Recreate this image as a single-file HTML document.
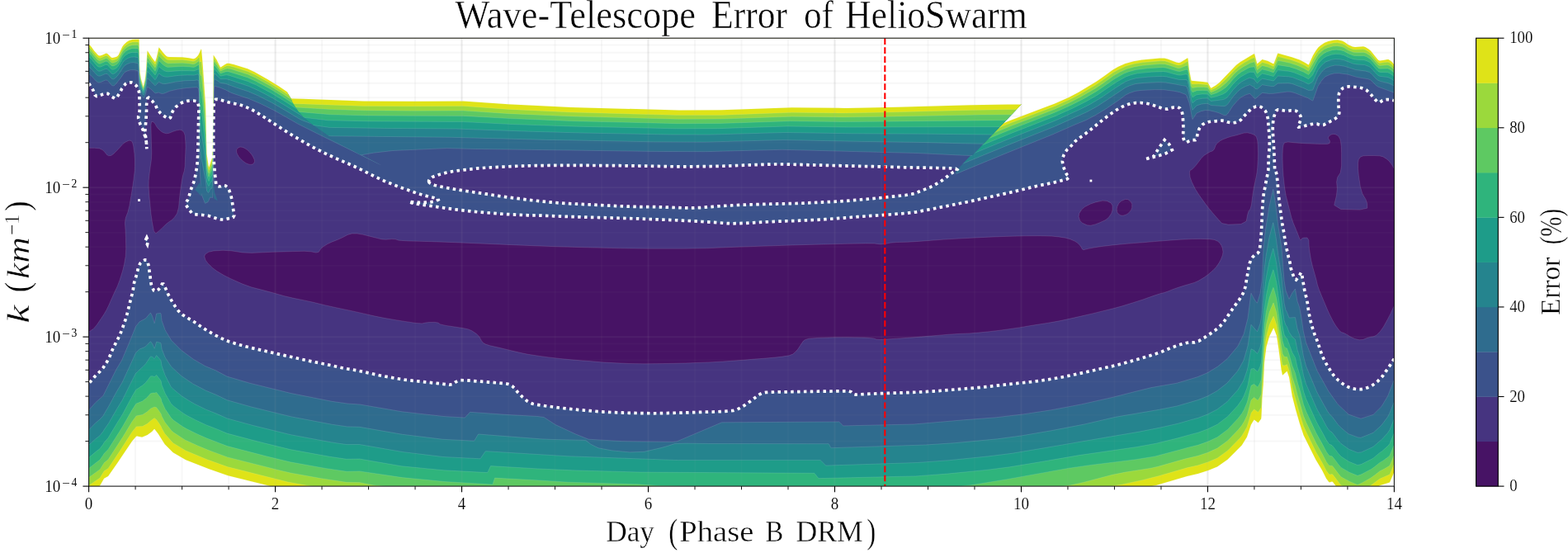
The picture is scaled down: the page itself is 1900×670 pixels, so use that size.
<!DOCTYPE html>
<html lang="en">
<head>
<meta charset="utf-8">
<title>Wave-Telescope Error of HelioSwarm</title>
<style>
html,body{margin:0;padding:0;background:#fff;}
body{width:1900px;height:670px;overflow:hidden;}
svg{display:block;}
svg text{font-family:"Liberation Serif","DejaVu Serif",serif;fill:#000;}
</style>
</head>
<body>
<svg width="1900" height="670" viewBox="0 0 1900 670">
<rect x="0" y="0" width="1900" height="670" fill="#fff"/>
<defs>
<clipPath id="cax"><rect x="107.6" y="46.2" width="1581.8000000000002" height="542.9"/></clipPath>
<clipPath id="cL"><polygon points="106.6,43.2 350.0,43.2 350.0,111.4 354.8,119.2 356.7,124.0 359.6,128.9 363.5,134.7 369.3,141.5 381.0,151.2 400.4,164.8 439.2,188.0 462.0,200.0 462.0,320.0 106.6,320.0"/></clipPath>
<clipPath id="cM"><polygon points="348.0,43.2 348.0,111.4 352.8,119.2 354.7,124.0 357.6,128.9 361.5,134.7 367.3,141.5 379.0,151.2 398.4,164.8 437.2,188.0 460.0,200.0 460.0,320.0 1160.5,320.0 1160.5,207.0 1238.0,126.0 1238.0,43.2"/></clipPath>
<clipPath id="cR"><polygon points="1236.0,43.2 1236.0,126.0 1158.5,207.0 1158.5,320.0 1690.4,320.0 1690.4,43.2"/></clipPath>
<clipPath id="cw"><polygon points="106.6,44.2 106.6,54.0 107.6,54.0 109.1,54.8 111.1,57.2 114.1,61.4 118.6,66.4 119.6,67.2 121.1,67.6 123.6,66.8 127.6,64.9 128.6,64.6 130.1,64.9 132.1,66.8 134.6,69.5 136.1,69.9 139.6,69.2 142.1,68.2 143.6,66.4 145.6,62.2 148.1,56.7 150.1,54.1 153.6,50.8 156.6,49.1 160.6,47.8 168.6,47.5 169.1,78.8 169.6,87.4 170.6,93.6 171.1,96.3 173.6,105.0 175.6,96.8 176.1,93.3 176.6,88.7 177.1,83.3 178.1,66.1 178.6,61.2 184.1,69.8 187.6,74.5 188.1,74.7 189.6,70.0 192.1,59.0 192.6,57.3 198.1,64.3 201.1,67.4 203.1,68.8 205.6,69.1 221.1,69.3 229.1,70.3 234.1,71.3 236.1,70.8 238.1,69.2 240.1,67.1 241.6,64.0 243.6,59.6 244.1,59.8 245.1,70.7 245.6,76.4 249.1,127.1 249.6,145.0 250.1,170.0 250.6,186.4 252.6,200.2 253.1,202.7 257.1,190.9 257.6,176.7 258.1,143.3 258.6,66.4 262.6,72.6 267.1,81.6 268.1,81.1 273.1,77.7 275.1,76.8 277.6,76.7 283.1,78.0 300.1,83.3 308.6,87.2 324.1,95.9 337.6,104.3 365.1,123.0 464.0,123.0 464.0,44.2" clip-path="url(#cL)"/><polygon points="1150.0,44.2 1150.0,176.0 1224.5,145.8 1277.5,125.7 1295.0,118.0 1306.5,112.0 1328.5,98.8 1337.5,92.5 1348.5,84.5 1355.0,80.8 1363.5,77.1 1373.5,74.3 1383.5,72.6 1405.0,70.6 1411.0,70.5 1415.0,71.6 1425.5,75.6 1428.5,76.1 1430.5,75.6 1439.0,70.2 1439.5,70.8 1441.0,84.0 1441.5,87.0 1443.5,97.3 1444.0,97.8 1457.5,99.0 1463.5,99.8 1466.5,105.3 1467.0,106.2 1467.5,106.7 1473.0,103.6 1477.5,100.0 1492.0,84.9 1498.0,78.8 1503.0,75.0 1518.0,66.1 1520.0,65.0 1520.5,66.4 1523.0,75.9 1523.5,77.3 1529.5,72.0 1536.0,73.7 1543.0,77.2 1543.5,76.9 1548.0,65.2 1548.5,64.4 1565.5,69.2 1575.0,72.6 1582.0,76.3 1585.5,78.5 1586.0,77.9 1591.0,66.9 1594.5,61.2 1597.5,57.3 1600.5,54.7 1605.0,51.8 1609.5,50.0 1616.5,48.4 1621.0,48.3 1626.5,49.4 1629.0,50.7 1633.5,54.0 1639.0,56.4 1642.0,56.9 1652.0,56.2 1654.5,56.9 1658.5,59.4 1661.0,61.6 1669.0,71.5 1670.5,73.0 1672.0,73.6 1677.0,72.7 1681.0,71.9 1682.5,72.1 1684.5,73.2 1687.0,75.3 1689.5,78.6 1690.4,78.6 1690.4,44.2" clip-path="url(#cR)"/><polygon points="340.0,44.2 340.0,119.0 367.5,119.8 440.5,122.4 496.0,122.7 561.5,122.4 616.0,126.3 692.0,129.9 823.0,133.5 874.0,133.3 959.5,130.2 1024.5,130.9 1086.5,129.7 1175.5,127.3 1221.0,126.6 1240.0,126.5 1240.0,44.2" clip-path="url(#cM)"/><polygon points="106.6,592.1 106.6,597.0 107.6,597.0 121.1,588.4 126.1,579.8 131.1,577.1 142.1,561.3 160.1,534.4 165.1,528.7 166.1,528.6 172.1,529.7 178.6,527.1 184.1,522.9 187.1,519.8 188.1,520.9 191.6,525.6 199.6,538.2 209.6,548.3 225.1,557.3 252.6,568.1 276.1,576.2 350.6,594.7 385.1,600.8 419.6,605.9 442.1,607.7 596.6,623.0 597.1,622.7 599.6,616.1 600.1,615.0 987.6,631.0 1108.1,629.8 1147.6,627.2 1192.1,622.9 1245.6,616.5 1310.1,607.5 1340.1,602.0 1359.6,597.8 1388.6,590.4 1401.1,588.0 1438.6,576.9 1451.6,574.1 1464.1,570.1 1475.1,565.6 1487.6,556.7 1504.8,539.6 1511.0,529.4 1516.0,514.5 1519.5,508.7 1520.0,508.8 1524.5,512.2 1525.2,511.4 1528.2,507.5 1528.5,505.0 1529.5,482.3 1529.8,478.2 1530.8,466.4 1531.0,462.5 1532.0,441.8 1532.2,438.5 1534.5,420.6 1534.8,419.3 1538.2,407.5 1543.2,397.4 1543.8,398.5 1547.0,407.0 1547.2,408.3 1549.8,425.9 1552.5,447.2 1554.0,454.7 1559.5,449.7 1562.0,457.0 1565.8,480.1 1569.8,495.7 1574.8,513.0 1579.5,527.2 1594.2,556.8 1602.0,569.8 1607.0,579.7 1610.0,583.7 1611.0,584.4 1614.0,583.4 1615.0,584.1 1621.5,592.6 1625.0,597.0 1645.0,606.0 1661.0,596.3 1672.0,588.2 1684.0,584.5 1687.5,576.5 1689.0,572.9 1690.0,572.0 1690.0,592.1"/></clipPath>
</defs>
<g clip-path="url(#cax)">
<rect x="106.6" y="45.2" width="1583.8000000000002" height="544.9" fill="#3b528b"/>
<g clip-path="url(#cL)">
<polygon points="106.6,44.2 106.6,89.5 107.6,89.5 109.6,90.9 112.6,94.0 116.1,97.9 118.1,99.4 119.6,100.0 121.6,99.7 127.6,97.2 129.1,97.1 130.1,97.4 132.1,99.4 134.6,102.5 136.1,103.8 137.6,103.9 139.1,103.1 141.1,101.0 146.6,93.9 149.6,89.4 151.1,87.6 154.6,85.8 158.6,84.6 163.1,84.7 167.1,85.8 167.6,87.7 168.6,105.1 169.1,112.2 171.6,116.1 174.1,118.8 174.6,118.3 176.1,114.9 176.6,113.6 178.1,106.8 178.6,105.1 183.1,108.1 188.1,113.0 192.1,112.0 195.1,113.3 197.6,113.4 200.6,112.5 205.6,110.3 214.1,108.3 226.1,106.5 238.1,105.7 239.1,106.1 240.1,106.8 240.6,107.5 241.1,112.5 241.6,135.0 242.1,202.1 243.6,234.0 248.1,245.5 248.6,246.4 252.1,244.6 252.6,243.8 254.6,239.0 257.6,239.5 258.1,229.0 258.6,188.3 259.1,111.7 259.6,104.1 267.1,106.3 273.6,109.0 280.1,112.4 289.6,115.7 301.1,119.4 316.1,125.8 331.1,133.2 346.6,141.8 360.1,149.6 383.6,161.4 451.6,194.9 460.1,199.0 464.0,199.0 464.0,44.2" fill="#2f6c8e" stroke="#ffffff" stroke-opacity="0.2" stroke-width="0.6" stroke-linejoin="round"/>
<polygon points="106.6,44.2 106.6,81.0 107.6,81.0 109.6,82.4 112.1,85.1 116.1,89.7 118.1,91.4 119.6,92.1 121.6,92.0 127.6,89.5 128.6,89.3 130.1,89.6 132.1,91.6 134.6,94.6 136.1,95.7 137.6,95.8 139.6,94.6 142.1,92.2 145.6,87.3 149.1,81.8 151.1,79.4 154.1,77.5 158.1,76.0 161.6,75.7 166.1,76.4 167.1,76.7 167.6,78.1 168.6,91.3 169.1,104.2 169.6,106.9 171.1,110.8 173.6,115.1 174.1,115.0 174.6,114.2 175.6,111.5 176.1,109.7 176.6,107.6 177.1,104.6 178.1,97.1 178.6,94.6 183.6,99.2 187.6,103.5 188.1,103.8 190.1,101.8 192.1,99.4 192.6,99.2 196.1,101.1 198.6,101.7 202.1,101.3 212.1,99.2 224.1,97.8 236.1,97.4 238.6,96.9 240.6,97.6 241.1,101.2 241.6,118.0 242.1,168.9 243.6,192.3 244.1,193.3 245.6,200.2 248.1,213.7 248.6,216.2 249.1,217.7 249.6,221.8 250.1,227.6 250.6,231.3 252.1,233.2 252.6,233.4 253.1,233.1 254.6,229.3 257.1,227.8 257.6,224.5 258.1,208.5 258.6,159.2 259.1,101.1 259.6,95.5 264.1,98.2 267.1,100.4 273.6,101.4 286.1,106.1 300.6,110.7 313.1,116.1 329.1,124.2 345.1,133.4 361.1,143.1 366.1,145.7 456.6,179.6 460.1,180.8 464.0,180.8 464.0,44.2" fill="#25848e" stroke="#ffffff" stroke-opacity="0.2" stroke-width="0.6" stroke-linejoin="round"/>
<polygon points="106.6,44.2 106.6,74.4 107.6,74.4 109.1,75.3 111.6,78.0 115.6,82.9 118.1,85.2 119.6,86.1 121.6,86.0 125.1,84.6 128.1,83.4 129.1,83.4 130.1,83.6 132.1,85.6 134.6,88.5 136.1,89.4 137.6,89.4 139.6,88.4 142.1,86.4 144.1,83.6 148.6,76.1 150.1,74.1 151.6,72.6 155.1,70.4 158.6,69.2 162.6,68.9 167.1,69.6 167.6,70.7 168.6,80.6 169.1,98.0 169.6,102.1 171.1,107.3 173.6,112.6 174.1,112.1 174.6,110.9 175.6,107.9 176.1,105.7 176.6,103.0 177.1,99.4 178.1,89.5 178.6,86.5 184.6,93.0 187.6,96.4 188.1,96.7 189.6,94.5 192.1,89.5 192.6,89.0 196.6,91.9 199.6,93.0 203.1,93.2 216.1,91.4 227.1,90.9 235.1,91.1 239.1,90.0 240.6,90.0 241.1,92.4 241.6,104.9 242.1,143.1 243.6,160.0 244.1,160.8 245.6,170.1 248.6,192.7 249.1,195.7 249.6,203.1 250.1,213.6 250.6,220.4 252.1,224.3 252.6,225.3 253.1,225.7 254.6,221.7 257.1,218.8 257.6,212.8 258.1,192.7 258.6,136.6 259.1,92.8 259.6,88.8 263.6,92.2 267.1,95.8 274.1,95.6 278.1,96.7 291.1,101.0 301.6,104.5 313.6,109.9 330.6,118.9 346.1,128.2 363.1,138.7 365.6,140.0 459.6,166.6 464.0,166.8 464.0,44.2" fill="#1e9c89" stroke="#ffffff" stroke-opacity="0.2" stroke-width="0.6" stroke-linejoin="round"/>
<polygon points="106.6,44.2 106.6,69.1 107.6,69.1 109.1,69.9 111.1,72.1 115.1,77.1 118.1,80.2 119.6,81.1 121.6,81.2 124.6,80.0 127.6,78.6 128.6,78.4 130.1,78.7 132.1,80.6 134.6,83.5 136.1,84.3 138.1,84.1 140.6,82.8 142.1,81.6 143.6,79.7 146.1,75.2 148.1,71.5 150.1,68.8 152.1,66.9 155.6,64.7 160.1,63.4 165.1,63.5 167.1,63.8 167.6,64.6 168.6,71.9 169.1,92.9 169.6,98.3 171.1,104.4 173.6,110.6 174.1,109.7 175.1,106.6 175.6,105.0 176.1,102.4 176.6,99.2 177.1,95.2 178.1,83.3 178.6,79.8 187.6,90.6 188.1,90.9 189.6,88.1 192.1,81.5 192.6,80.7 197.1,84.5 200.6,86.3 203.6,86.8 219.6,85.4 229.1,85.6 234.6,85.9 237.1,85.2 240.6,83.7 241.1,85.2 241.6,94.1 242.1,122.0 243.6,133.6 244.1,134.2 245.6,145.5 248.6,173.6 249.1,177.6 249.6,187.8 250.1,202.1 250.6,211.4 252.1,217.1 252.6,218.7 253.1,219.6 254.6,215.6 257.1,211.5 257.6,203.3 258.1,179.7 258.6,118.1 259.1,86.1 259.6,83.3 263.1,86.9 267.1,92.1 274.1,90.8 277.1,91.2 300.1,98.5 310.6,103.1 328.1,112.4 343.6,121.8 363.6,134.5 365.6,135.5 460.1,155.2 464.0,155.2 464.0,44.2" fill="#2fb47c" stroke="#ffffff" stroke-opacity="0.2" stroke-width="0.6" stroke-linejoin="round"/>
<polygon points="106.6,44.2 106.6,64.5 107.6,64.5 109.1,65.4 111.1,67.6 114.6,72.2 118.1,75.9 119.6,76.9 121.1,77.2 123.6,76.3 127.6,74.5 128.6,74.2 130.1,74.5 132.1,76.5 134.6,79.2 136.1,79.9 138.1,79.7 140.6,78.6 142.1,77.6 143.6,75.7 146.1,70.9 148.1,67.0 150.1,64.3 152.6,62.0 156.1,59.9 160.1,58.7 165.1,58.7 167.1,58.9 167.6,59.4 168.6,64.6 169.1,88.6 169.6,95.0 171.1,102.0 173.6,108.9 174.6,106.1 175.6,102.5 176.1,99.7 176.6,96.0 177.1,91.6 178.1,78.1 178.6,74.2 186.6,84.5 187.6,85.8 188.1,86.0 189.6,82.6 192.1,74.7 192.6,73.6 197.1,78.1 200.6,80.4 203.1,81.4 221.1,80.5 229.6,81.0 234.6,81.5 236.6,80.9 240.6,78.4 241.1,79.2 241.6,85.0 242.1,104.2 243.6,111.3 244.1,111.8 245.1,120.2 245.6,124.6 248.6,157.4 249.1,162.4 249.6,174.9 250.1,192.4 250.6,203.9 252.6,213.1 253.1,214.5 254.6,210.3 257.1,205.3 257.6,195.3 258.1,168.7 258.6,102.5 259.1,80.4 259.6,78.7 263.1,82.9 267.1,88.9 274.1,86.7 276.6,86.7 285.1,89.2 300.1,93.9 310.1,98.4 327.6,107.8 342.6,117.1 364.6,131.4 366.6,131.9 460.6,145.5 464.0,145.5 464.0,44.2" fill="#5ec962" stroke="#ffffff" stroke-opacity="0.2" stroke-width="0.6" stroke-linejoin="round"/>
<polygon points="106.6,44.2 106.6,60.6 107.6,60.6 109.1,61.4 111.1,63.7 114.1,67.8 118.1,72.2 119.6,73.3 121.1,73.6 123.6,72.8 127.6,70.9 128.6,70.6 130.1,70.9 132.1,72.9 134.6,75.6 136.1,76.2 138.6,75.8 142.1,74.1 143.6,72.2 145.6,68.3 148.1,63.2 150.1,60.5 153.1,57.8 156.1,55.9 160.1,54.7 165.1,54.5 167.1,54.6 167.6,55.0 168.6,58.2 169.1,84.9 169.6,92.2 171.1,99.9 173.6,107.5 174.6,104.1 175.6,100.4 176.1,97.3 176.6,93.3 177.1,88.5 178.1,73.6 178.6,69.3 184.6,77.7 187.6,81.5 188.1,81.8 189.6,77.9 192.1,68.8 192.6,67.5 197.6,73.0 201.1,75.7 203.6,76.7 221.1,76.3 229.1,77.0 234.1,77.7 236.1,77.3 239.6,74.9 240.6,73.9 241.1,73.9 241.6,77.2 242.1,88.7 243.6,91.9 244.1,92.3 245.1,101.6 245.6,106.6 248.6,143.3 249.1,149.2 249.6,163.7 250.1,184.0 250.6,197.3 252.6,208.3 253.1,210.1 254.6,205.8 257.1,199.9 257.6,188.3 258.1,159.2 258.6,89.0 259.1,75.4 259.6,74.7 263.1,79.4 267.1,86.2 268.1,85.8 273.1,83.4 275.6,82.9 279.6,83.5 300.1,90.0 309.6,94.2 327.1,103.8 341.6,112.9 365.1,128.4 461.1,137.1 464.0,137.1 464.0,44.2" fill="#9bd93c" stroke="#ffffff" stroke-opacity="0.2" stroke-width="0.6" stroke-linejoin="round"/>
<polygon points="106.6,44.2 106.6,57.1 107.6,57.1 109.1,57.9 111.1,60.3 114.1,64.4 118.1,68.9 119.6,70.1 121.1,70.4 123.6,69.6 127.6,67.7 128.6,67.5 130.1,67.8 132.1,69.7 134.6,72.3 136.1,72.9 139.1,72.3 142.1,71.0 143.6,69.1 145.6,65.1 148.1,59.7 150.1,57.1 153.6,53.9 156.6,52.2 160.6,51.0 167.1,50.9 167.6,51.0 168.6,52.5 169.1,81.7 169.6,89.7 170.6,95.4 171.1,98.0 173.6,106.2 175.6,98.5 176.1,95.1 176.6,90.8 177.1,85.7 178.1,69.6 178.6,65.1 184.1,73.2 187.6,77.8 188.1,78.0 189.6,73.7 192.1,63.6 192.6,62.1 197.6,68.1 201.1,71.3 203.1,72.5 206.1,72.7 221.1,72.6 229.1,73.5 234.1,74.3 236.1,73.8 238.6,72.0 240.1,70.6 241.1,69.3 241.6,70.2 242.1,75.1 243.6,74.8 244.1,75.1 245.1,85.3 245.6,90.7 249.1,137.5 249.6,153.8 250.1,176.6 250.6,191.5 252.6,204.0 253.1,206.2 255.6,199.2 257.1,195.1 257.6,182.2 258.1,150.8 258.6,77.1 259.1,71.1 259.6,71.1 263.1,76.3 267.1,83.8 268.1,83.3 273.1,80.4 275.1,79.7 277.6,79.7 283.6,81.3 300.1,86.5 309.1,90.5 326.1,100.0 340.1,108.8 365.1,125.6 463.6,129.7 464.0,129.7 464.0,44.2" fill="#dfe318" stroke="#ffffff" stroke-opacity="0.2" stroke-width="0.6" stroke-linejoin="round"/>
<polygon points="106.6,44.2 106.6,54.0 107.6,54.0 109.1,54.8 111.1,57.2 114.1,61.4 118.6,66.4 119.6,67.2 121.1,67.6 123.6,66.8 127.6,64.9 128.6,64.6 130.1,64.9 132.1,66.8 134.6,69.5 136.1,69.9 139.6,69.2 142.1,68.2 143.6,66.4 145.6,62.2 148.1,56.7 150.1,54.1 153.6,50.8 156.6,49.1 160.6,47.8 168.6,47.5 169.1,78.8 169.6,87.4 170.6,93.6 171.1,96.3 173.6,105.0 175.6,96.8 176.1,93.3 176.6,88.7 177.1,83.3 178.1,66.1 178.6,61.2 184.1,69.8 187.6,74.5 188.1,74.7 189.6,70.0 192.1,59.0 192.6,57.3 198.1,64.3 201.1,67.4 203.1,68.8 205.6,69.1 221.1,69.3 229.1,70.3 234.1,71.3 236.1,70.8 238.1,69.2 240.1,67.1 241.6,64.0 243.6,59.6 244.1,59.8 245.1,70.7 245.6,76.4 249.1,127.1 249.6,145.0 250.1,170.0 250.6,186.4 252.6,200.2 253.1,202.7 257.1,190.9 257.6,176.7 258.1,143.3 258.6,66.4 262.6,72.6 267.1,81.6 268.1,81.1 273.1,77.7 275.1,76.8 277.6,76.7 283.1,78.0 300.1,83.3 308.6,87.2 324.1,95.9 337.6,104.3 365.1,123.0 464.0,123.0 464.0,44.2" fill="#ffffff" stroke="#ffffff" stroke-opacity="0.2" stroke-width="0.6" stroke-linejoin="round"/>
</g>
<g clip-path="url(#cR)">
<polygon points="1150.0,44.2 1150.0,214.2 1217.0,186.5 1275.0,163.1 1303.0,150.8 1316.0,145.5 1327.5,139.5 1340.0,131.9 1356.5,120.7 1364.0,115.0 1368.5,112.8 1375.5,110.4 1382.0,109.5 1399.5,108.6 1410.0,108.7 1422.5,110.3 1429.5,111.7 1437.0,114.6 1437.5,115.1 1441.0,124.4 1442.0,129.4 1444.5,142.6 1445.0,144.6 1450.0,137.1 1455.5,134.7 1460.5,133.6 1465.0,133.7 1472.5,135.4 1477.0,136.8 1482.5,139.3 1484.5,139.7 1486.0,139.3 1487.5,137.9 1490.0,134.3 1493.5,128.7 1500.0,121.3 1503.5,118.1 1509.0,115.1 1513.0,113.8 1514.5,113.5 1516.0,114.8 1520.5,119.4 1521.0,119.7 1529.5,112.4 1537.5,113.4 1543.0,113.3 1560.0,111.1 1564.0,111.2 1569.0,112.6 1584.5,118.6 1589.0,121.1 1590.5,122.2 1591.0,121.5 1597.0,104.6 1601.0,98.3 1603.5,95.1 1606.0,92.8 1612.0,90.1 1617.0,88.8 1622.5,88.7 1633.0,90.1 1644.5,93.6 1658.0,95.8 1660.5,96.8 1663.0,98.9 1667.5,103.6 1670.0,105.2 1678.0,108.1 1689.5,112.3 1690.4,112.3 1690.4,44.2" fill="#2f6c8e" stroke="#ffffff" stroke-opacity="0.2" stroke-width="0.6" stroke-linejoin="round"/>
<polygon points="1150.0,44.2 1150.0,205.1 1221.0,175.9 1277.5,153.4 1316.5,135.9 1329.5,128.8 1342.5,120.3 1364.0,105.9 1369.0,103.7 1376.0,101.6 1386.0,100.4 1404.0,99.5 1412.0,99.8 1432.5,103.6 1437.0,104.3 1437.5,104.6 1439.0,107.4 1439.5,108.6 1441.0,114.8 1443.5,127.8 1444.5,131.9 1445.0,133.4 1450.0,127.9 1456.0,126.0 1461.5,125.4 1463.5,125.5 1467.5,127.6 1478.0,128.3 1483.0,128.7 1485.0,128.2 1486.5,127.3 1488.0,125.7 1491.0,121.5 1494.0,117.3 1500.0,110.7 1503.5,107.7 1509.5,104.4 1514.5,102.7 1518.5,105.0 1520.0,106.0 1521.0,107.4 1523.5,107.9 1529.5,102.7 1541.0,104.6 1543.5,104.5 1548.5,101.0 1561.0,100.7 1565.5,101.4 1579.0,106.4 1585.5,109.4 1590.5,109.2 1591.0,108.4 1596.5,94.6 1597.0,93.5 1601.0,87.8 1604.0,84.5 1606.5,82.6 1612.5,80.2 1617.5,79.1 1623.0,79.2 1629.0,80.2 1642.5,84.5 1654.5,86.0 1659.5,87.6 1662.0,89.5 1667.5,95.5 1670.0,97.4 1673.0,98.6 1682.0,100.6 1687.5,103.1 1689.5,104.2 1690.4,104.2 1690.4,44.2" fill="#25848e" stroke="#ffffff" stroke-opacity="0.2" stroke-width="0.6" stroke-linejoin="round"/>
<polygon points="1150.0,44.2 1150.0,198.0 1223.0,168.1 1278.0,146.4 1309.5,132.1 1322.0,125.7 1334.0,118.5 1353.0,105.6 1364.0,98.8 1370.0,96.5 1377.0,94.6 1392.0,93.1 1408.5,92.4 1413.5,92.9 1428.5,96.4 1433.5,96.5 1437.5,96.5 1439.0,98.3 1439.5,99.4 1443.5,120.3 1444.5,123.6 1445.0,124.8 1450.0,120.6 1456.5,119.3 1462.5,119.1 1463.5,119.2 1467.0,122.2 1467.5,122.5 1481.0,120.8 1484.5,119.8 1486.5,118.4 1489.0,115.6 1494.0,108.9 1500.0,102.6 1504.0,99.3 1511.0,95.6 1514.5,94.2 1520.0,96.0 1521.0,97.9 1523.0,100.1 1523.5,100.5 1529.5,95.2 1543.0,98.0 1543.5,97.8 1548.0,92.4 1548.5,92.1 1561.5,92.8 1566.5,93.8 1580.0,99.1 1585.5,101.9 1586.5,101.4 1590.5,99.1 1591.0,98.3 1596.5,85.8 1597.5,84.1 1601.0,79.7 1604.0,76.7 1607.0,74.7 1613.5,72.3 1618.5,71.5 1624.0,71.9 1628.5,72.8 1639.5,77.1 1644.0,77.9 1653.5,78.6 1658.5,80.4 1660.5,81.6 1663.0,84.1 1667.5,89.2 1670.0,91.4 1672.0,92.3 1682.0,93.6 1686.0,95.5 1689.5,98.0 1690.4,98.0 1690.4,44.2" fill="#1e9c89" stroke="#ffffff" stroke-opacity="0.2" stroke-width="0.6" stroke-linejoin="round"/>
<polygon points="1150.0,44.2 1150.0,192.2 1224.0,162.0 1278.0,140.9 1299.0,131.5 1316.0,123.0 1330.0,114.9 1344.0,105.3 1353.5,99.0 1364.0,93.1 1371.0,90.6 1378.5,88.8 1395.5,87.2 1409.5,86.7 1414.0,87.3 1427.5,90.9 1430.5,91.1 1437.5,89.8 1439.0,90.9 1439.5,91.8 1441.0,101.2 1443.5,114.3 1444.5,116.8 1445.0,117.7 1450.0,114.8 1457.0,113.9 1463.5,114.1 1467.0,118.0 1467.5,118.3 1475.0,116.5 1482.0,114.0 1485.5,111.9 1488.0,109.5 1494.5,101.4 1500.0,95.9 1504.0,92.8 1511.5,88.6 1515.0,87.3 1520.0,87.8 1521.0,90.1 1523.0,93.7 1523.5,94.4 1529.5,89.1 1537.5,91.0 1543.0,92.5 1543.5,92.3 1548.0,85.3 1548.5,84.8 1562.0,86.3 1568.5,88.1 1579.5,92.6 1585.5,95.7 1586.0,95.5 1590.5,90.9 1591.5,88.9 1596.0,79.6 1597.0,77.7 1600.0,74.0 1604.0,70.3 1607.0,68.4 1613.5,66.2 1618.5,65.4 1624.0,65.8 1628.5,66.9 1635.0,70.0 1640.5,71.9 1646.0,72.5 1653.0,72.7 1657.0,74.1 1660.0,75.8 1662.5,78.2 1667.5,84.0 1670.0,86.5 1672.0,87.4 1681.5,87.8 1684.0,88.7 1687.5,91.1 1689.5,92.9 1690.4,92.9 1690.4,44.2" fill="#2fb47c" stroke="#ffffff" stroke-opacity="0.2" stroke-width="0.6" stroke-linejoin="round"/>
<polygon points="1150.0,44.2 1150.0,187.3 1225.0,156.8 1278.0,136.3 1297.0,127.8 1313.5,119.4 1328.5,110.7 1338.5,103.9 1350.5,95.6 1362.0,89.1 1368.0,86.8 1376.5,84.5 1390.5,82.8 1409.0,81.7 1413.0,82.2 1427.0,86.3 1430.0,86.5 1437.5,84.2 1439.0,84.7 1439.5,85.5 1441.0,96.0 1443.5,109.1 1444.0,110.3 1445.0,111.7 1450.5,109.7 1457.5,109.4 1463.5,109.8 1467.0,114.5 1467.5,114.8 1474.5,112.4 1480.5,109.3 1485.5,105.8 1489.0,102.2 1495.0,95.1 1500.0,90.2 1504.5,86.9 1513.0,82.2 1515.0,81.4 1520.0,80.9 1523.0,88.4 1523.5,89.2 1529.5,84.0 1537.0,85.8 1543.0,87.9 1543.5,87.6 1548.0,79.2 1548.5,78.7 1562.5,80.9 1570.5,83.4 1579.5,87.2 1585.5,90.5 1586.0,90.2 1590.5,83.9 1595.5,74.3 1597.0,71.7 1600.0,68.3 1604.0,64.9 1607.5,62.9 1614.5,60.7 1619.5,60.2 1625.0,60.9 1628.5,61.9 1634.5,65.2 1640.5,67.4 1645.5,67.7 1652.5,67.7 1655.5,68.6 1660.0,71.2 1662.5,73.8 1667.5,79.7 1670.0,82.3 1672.0,83.2 1681.5,83.0 1684.0,83.9 1687.0,86.0 1689.5,88.6 1690.4,88.6 1690.4,44.2" fill="#5ec962" stroke="#ffffff" stroke-opacity="0.2" stroke-width="0.6" stroke-linejoin="round"/>
<polygon points="1150.0,44.2 1150.0,183.1 1225.0,152.6 1277.5,132.5 1295.5,124.5 1310.0,117.0 1327.0,107.2 1336.0,101.2 1349.5,91.6 1357.5,87.1 1365.0,83.6 1374.5,80.9 1384.5,79.3 1405.0,77.6 1411.5,77.7 1416.5,79.1 1427.0,82.4 1429.5,82.6 1432.5,81.6 1437.5,79.4 1439.0,79.2 1439.5,80.0 1441.0,91.5 1442.0,96.9 1443.5,104.7 1444.0,105.6 1445.0,106.5 1451.0,105.4 1458.5,105.6 1463.5,106.0 1467.0,111.4 1467.5,111.8 1473.5,109.2 1478.5,106.2 1484.5,101.4 1489.0,96.9 1495.5,89.6 1500.5,84.9 1506.0,81.2 1515.0,76.3 1520.0,74.9 1520.5,76.2 1523.0,83.7 1523.5,84.8 1529.5,79.5 1536.5,81.3 1543.0,83.9 1543.5,83.6 1548.0,74.0 1548.5,73.3 1563.0,76.3 1572.0,79.3 1579.5,82.6 1585.5,86.0 1586.0,85.6 1591.5,76.0 1595.5,68.9 1597.5,66.0 1600.5,62.9 1604.5,59.8 1608.5,57.9 1615.5,56.1 1620.0,55.7 1625.5,56.5 1628.5,57.6 1634.0,61.0 1640.0,63.3 1644.0,63.6 1652.5,63.4 1655.5,64.4 1660.0,67.2 1662.5,69.9 1668.0,76.5 1670.0,78.7 1672.0,79.6 1681.0,78.8 1683.0,79.3 1686.0,81.2 1688.5,83.7 1689.5,84.8 1690.4,84.8 1690.4,44.2" fill="#9bd93c" stroke="#ffffff" stroke-opacity="0.2" stroke-width="0.6" stroke-linejoin="round"/>
<polygon points="1150.0,44.2 1150.0,179.3 1224.5,149.1 1277.5,128.9 1295.0,121.1 1307.5,114.7 1327.5,103.0 1336.5,96.8 1349.0,87.8 1356.0,83.9 1364.5,80.1 1374.5,77.3 1385.0,75.6 1406.5,73.8 1411.5,73.9 1416.0,75.3 1426.5,78.9 1429.0,79.1 1431.5,78.4 1438.5,74.7 1439.0,74.5 1439.5,75.1 1441.0,87.6 1441.5,90.5 1443.5,100.8 1444.0,101.5 1445.0,102.0 1452.5,101.7 1463.5,102.7 1467.0,108.7 1467.5,109.1 1473.0,106.4 1477.5,103.3 1484.0,97.3 1490.5,90.6 1496.5,84.2 1501.0,80.3 1507.5,76.0 1516.0,71.3 1520.0,69.7 1520.5,71.1 1523.0,79.6 1523.5,80.8 1529.5,75.5 1536.5,77.4 1543.0,80.4 1543.5,80.1 1548.0,69.3 1548.5,68.6 1564.0,72.4 1574.0,75.9 1581.0,79.3 1585.5,82.0 1586.0,81.6 1591.5,70.8 1595.0,64.8 1597.5,61.4 1600.5,58.6 1605.0,55.5 1609.0,53.7 1616.0,52.0 1620.5,51.8 1626.5,52.9 1629.0,54.1 1634.0,57.5 1639.5,59.7 1643.0,60.1 1652.0,59.6 1654.5,60.3 1659.0,63.0 1661.5,65.2 1668.5,73.9 1670.5,75.9 1672.0,76.4 1677.5,75.6 1681.5,75.2 1683.5,75.8 1686.5,78.0 1688.5,80.3 1689.5,81.5 1690.4,81.5 1690.4,44.2" fill="#dfe318" stroke="#ffffff" stroke-opacity="0.2" stroke-width="0.6" stroke-linejoin="round"/>
<polygon points="1150.0,44.2 1150.0,176.0 1224.5,145.8 1277.5,125.7 1295.0,118.0 1306.5,112.0 1328.5,98.8 1337.5,92.5 1348.5,84.5 1355.0,80.8 1363.5,77.1 1373.5,74.3 1383.5,72.6 1405.0,70.6 1411.0,70.5 1415.0,71.6 1425.5,75.6 1428.5,76.1 1430.5,75.6 1439.0,70.2 1439.5,70.8 1441.0,84.0 1441.5,87.0 1443.5,97.3 1444.0,97.8 1457.5,99.0 1463.5,99.8 1466.5,105.3 1467.0,106.2 1467.5,106.7 1473.0,103.6 1477.5,100.0 1492.0,84.9 1498.0,78.8 1503.0,75.0 1518.0,66.1 1520.0,65.0 1520.5,66.4 1523.0,75.9 1523.5,77.3 1529.5,72.0 1536.0,73.7 1543.0,77.2 1543.5,76.9 1548.0,65.2 1548.5,64.4 1565.5,69.2 1575.0,72.6 1582.0,76.3 1585.5,78.5 1586.0,77.9 1591.0,66.9 1594.5,61.2 1597.5,57.3 1600.5,54.7 1605.0,51.8 1609.5,50.0 1616.5,48.4 1621.0,48.3 1626.5,49.4 1629.0,50.7 1633.5,54.0 1639.0,56.4 1642.0,56.9 1652.0,56.2 1654.5,56.9 1658.5,59.4 1661.0,61.6 1669.0,71.5 1670.5,73.0 1672.0,73.6 1677.0,72.7 1681.0,71.9 1682.5,72.1 1684.5,73.2 1687.0,75.3 1689.5,78.6 1690.4,78.6 1690.4,44.2" fill="#ffffff" stroke="#ffffff" stroke-opacity="0.2" stroke-width="0.6" stroke-linejoin="round"/>
</g>
<g clip-path="url(#cM)">
<polygon points="340.0,44.2 340.0,192.0 428.0,188.8 438.5,187.7 452.5,185.2 476.0,182.5 541.5,179.6 572.0,180.4 789.0,183.4 854.5,183.7 947.5,181.3 1111.0,185.5 1166.5,188.2 1240.0,190.0 1240.0,44.2" fill="#2f6c8e" stroke="#ffffff" stroke-opacity="0.2" stroke-width="0.6" stroke-linejoin="round"/>
<polygon points="340.0,44.2 340.0,154.0 357.5,155.4 362.0,157.5 371.5,159.4 383.0,161.9 399.0,164.8 546.5,166.3 661.5,169.4 792.0,171.8 854.0,172.1 949.0,169.6 1043.5,171.4 1114.0,172.4 1171.0,173.9 1240.0,175.0 1240.0,44.2" fill="#25848e" stroke="#ffffff" stroke-opacity="0.2" stroke-width="0.6" stroke-linejoin="round"/>
<polygon points="340.0,44.2 340.0,146.0 358.0,147.3 362.0,148.7 375.0,150.9 399.0,154.4 465.5,155.4 552.5,156.0 587.0,157.3 640.5,159.2 709.0,161.1 812.5,163.0 859.0,163.1 922.5,161.3 951.5,160.5 1033.0,161.8 1122.0,162.2 1185.0,162.9 1240.0,163.3 1240.0,44.2" fill="#1e9c89" stroke="#ffffff" stroke-opacity="0.2" stroke-width="0.6" stroke-linejoin="round"/>
<polygon points="340.0,44.2 340.0,139.6 358.0,140.6 362.5,141.6 397.5,145.8 447.5,146.9 518.5,147.3 561.5,147.6 621.5,150.6 698.5,153.2 819.5,155.8 869.5,155.7 954.0,153.0 1028.5,154.1 1156.0,153.7 1233.5,153.7 1240.0,153.8 1240.0,44.2" fill="#2fb47c" stroke="#ffffff" stroke-opacity="0.2" stroke-width="0.6" stroke-linejoin="round"/>
<polygon points="340.0,44.2 340.0,134.1 358.5,134.9 364.0,135.7 400.0,138.8 445.0,139.9 503.5,140.3 561.5,140.4 618.5,143.6 695.0,146.7 821.0,149.7 873.0,149.5 957.5,146.7 1026.5,147.6 1096.0,146.9 1216.0,145.7 1240.0,145.7 1240.0,44.2" fill="#5ec962" stroke="#ffffff" stroke-opacity="0.2" stroke-width="0.6" stroke-linejoin="round"/>
<polygon points="340.0,44.2 340.0,129.3 359.0,130.0 402.0,132.6 442.5,133.8 498.5,134.2 561.5,134.1 617.0,137.7 693.5,141.0 822.0,144.3 874.5,144.1 959.5,141.2 1025.5,142.0 1090.0,141.0 1188.5,139.1 1240.0,138.8 1240.0,44.2" fill="#9bd93c" stroke="#ffffff" stroke-opacity="0.2" stroke-width="0.6" stroke-linejoin="round"/>
<polygon points="340.0,44.2 340.0,125.1 367.5,125.9 440.5,128.5 496.0,128.8 561.5,128.5 616.0,132.4 692.0,136.0 823.0,139.6 874.0,139.4 959.5,136.3 1024.5,137.0 1086.5,135.8 1175.5,133.4 1221.0,132.7 1240.0,132.6 1240.0,44.2" fill="#dfe318" stroke="#ffffff" stroke-opacity="0.2" stroke-width="0.6" stroke-linejoin="round"/>
<polygon points="340.0,44.2 340.0,119.0 367.5,119.8 440.5,122.4 496.0,122.7 561.5,122.4 616.0,126.3 692.0,129.9 823.0,133.5 874.0,133.3 959.5,130.2 1024.5,130.9 1086.5,129.7 1175.5,127.3 1221.0,126.6 1240.0,126.5 1240.0,44.2" fill="#ffffff" stroke="#ffffff" stroke-opacity="0.2" stroke-width="0.6" stroke-linejoin="round"/>
</g>
<polygon points="106.6,592.1 106.6,497.0 107.6,497.0 115.6,487.8 124.6,479.9 125.1,479.2 140.6,448.1 147.6,436.4 156.1,416.4 164.6,395.4 169.1,389.8 176.6,385.8 182.1,379.2 182.6,379.2 184.6,383.2 185.6,386.4 187.1,391.7 187.6,390.0 189.6,380.0 194.6,379.4 195.1,380.2 195.6,384.8 196.1,388.7 200.1,399.7 201.6,402.4 207.6,412.3 219.6,424.3 234.6,435.4 248.6,443.5 261.1,448.7 275.1,456.1 302.6,464.2 352.6,476.5 402.1,486.3 421.1,489.0 436.1,490.0 487.1,498.8 537.6,504.5 563.1,506.0 563.6,505.8 569.6,499.3 616.6,502.6 651.6,504.5 659.1,505.5 673.1,514.6 697.6,526.0 713.1,532.2 753.6,534.6 815.1,535.4 820.1,534.9 874.6,511.8 1016.6,511.0 1018.1,512.3 1021.6,515.9 1107.1,514.0 1167.6,508.8 1207.6,505.7 1239.6,501.9 1273.1,496.9 1310.1,489.9 1348.1,481.4 1375.1,474.5 1395.1,469.6 1411.6,466.7 1426.1,464.2 1451.1,456.7 1463.1,451.7 1475.6,444.1 1487.1,434.7 1499.6,419.8 1500.8,417.7 1507.2,404.6 1512.0,385.7 1512.2,384.5 1515.5,358.3 1515.8,356.2 1516.0,355.2 1519.8,362.6 1523.2,367.2 1523.5,367.1 1527.0,355.3 1527.2,354.0 1529.2,340.3 1529.5,335.3 1531.0,300.0 1534.0,275.0 1538.0,250.0 1542.5,229.9 1542.8,229.3 1546.0,250.0 1549.0,275.0 1553.0,300.0 1556.0,340.0 1558.0,352.0 1562.0,362.4 1565.8,354.9 1569.5,350.0 1572.0,364.9 1574.5,372.0 1577.0,384.9 1579.2,400.6 1579.5,402.0 1582.5,415.0 1596.0,449.1 1609.5,473.5 1621.0,489.7 1634.0,502.0 1639.5,504.0 1649.0,507.2 1664.0,502.4 1674.0,492.5 1681.0,480.9 1682.0,478.9 1689.0,461.0 1690.0,460.0 1690.0,592.1" fill="#2f6c8e" stroke="#ffffff" stroke-opacity="0.2" stroke-width="0.6" stroke-linejoin="round"/>
<polygon points="106.6,592.1 106.6,520.9 107.6,520.9 115.6,512.6 121.6,507.6 125.1,503.6 127.1,500.0 131.6,492.5 141.1,474.9 148.1,463.3 156.6,444.9 164.1,428.4 164.6,427.4 167.6,424.5 169.6,422.8 174.1,421.1 176.6,419.7 182.1,413.9 182.6,413.8 184.6,416.5 185.6,418.6 187.1,422.3 187.6,421.1 189.6,414.1 194.6,415.4 195.1,416.3 195.6,419.9 196.1,423.1 200.1,433.0 204.1,439.1 207.6,444.3 216.1,452.2 220.1,455.7 233.6,464.9 249.1,473.1 261.6,478.2 275.1,484.7 304.1,492.9 352.1,504.7 402.6,514.3 420.6,516.9 435.6,517.3 487.6,526.3 536.6,532.3 574.6,534.2 579.6,526.0 654.6,531.8 667.6,532.4 709.6,533.4 716.1,538.4 725.1,542.8 741.1,545.8 763.1,547.9 780.6,547.3 801.1,542.6 808.6,540.5 817.6,537.5 831.6,537.1 860.6,537.5 1004.1,537.7 1004.6,538.3 1006.6,542.3 1007.1,542.7 1121.1,539.0 1158.1,536.6 1208.6,531.8 1237.1,528.0 1273.6,521.8 1314.1,514.0 1351.6,505.3 1378.1,500.8 1404.6,496.3 1426.1,492.0 1451.6,484.6 1463.1,480.1 1475.1,473.4 1487.1,464.0 1499.6,449.6 1502.5,444.7 1506.5,437.4 1507.2,435.9 1511.2,422.1 1512.2,418.2 1515.8,394.2 1516.0,393.3 1523.2,401.6 1523.5,401.6 1525.0,397.8 1527.0,392.1 1527.5,389.6 1528.2,385.5 1528.5,383.6 1529.2,375.6 1530.2,354.6 1531.0,338.8 1532.0,327.5 1532.2,325.2 1534.0,310.7 1534.8,305.9 1538.0,287.8 1542.5,270.3 1542.8,269.7 1543.5,273.2 1546.0,286.9 1547.2,295.8 1549.0,309.8 1552.8,334.3 1553.0,335.8 1554.0,347.1 1556.0,367.0 1558.0,375.7 1559.5,378.3 1562.0,385.0 1569.5,384.6 1572.0,398.0 1574.5,405.5 1577.0,417.1 1579.2,430.6 1579.5,431.9 1582.5,443.3 1595.5,474.4 1596.8,477.0 1605.0,491.9 1608.5,498.1 1610.5,501.0 1614.5,505.2 1621.5,514.7 1625.5,518.7 1634.0,525.7 1645.5,529.9 1649.0,530.3 1664.0,524.3 1674.0,515.2 1681.5,505.1 1683.5,501.2 1685.0,497.8 1689.0,487.8 1690.0,486.8 1690.0,592.1" fill="#25848e" stroke="#ffffff" stroke-opacity="0.2" stroke-width="0.6" stroke-linejoin="round"/>
<polygon points="106.6,592.1 106.6,539.4 107.6,539.4 115.6,531.9 121.1,527.7 125.1,522.6 126.6,520.0 131.6,512.9 141.6,495.5 148.1,485.0 157.6,465.9 161.6,457.9 164.6,452.2 166.1,450.9 167.1,450.2 169.6,447.4 173.1,444.4 176.6,440.7 180.6,434.7 182.1,432.3 182.6,431.9 184.6,432.3 187.1,434.7 188.1,433.2 189.6,430.6 194.6,436.2 195.1,437.4 195.6,440.6 196.1,443.5 200.1,454.7 207.1,468.4 208.6,470.2 215.1,475.7 220.6,480.1 228.1,484.9 235.6,489.3 249.6,496.2 262.1,501.1 275.1,506.9 306.6,515.5 352.1,526.7 401.6,535.9 420.1,538.6 435.6,538.5 487.6,547.5 536.6,553.5 582.1,555.8 588.1,546.9 589.1,546.7 687.1,552.7 822.1,557.6 994.1,557.6 995.6,558.9 1000.6,564.1 1111.6,560.5 1150.1,557.7 1198.1,552.8 1226.1,549.3 1265.1,542.8 1322.1,533.0 1380.6,523.1 1406.1,518.0 1427.1,513.3 1443.1,508.7 1451.6,506.4 1463.1,502.1 1475.1,495.9 1487.1,486.7 1500.0,472.3 1505.2,463.9 1507.2,460.2 1511.0,449.0 1512.2,444.4 1515.8,423.7 1516.0,422.8 1519.8,424.5 1523.2,428.3 1523.5,428.3 1524.8,426.2 1527.0,420.6 1528.0,416.3 1528.2,415.2 1528.5,413.2 1529.2,403.0 1529.8,392.5 1530.8,374.0 1531.0,369.0 1532.0,355.4 1532.2,352.8 1534.0,338.5 1534.5,335.0 1535.5,329.7 1538.0,317.2 1541.2,305.9 1542.5,301.6 1542.8,301.1 1543.2,302.5 1546.0,315.5 1547.0,321.4 1548.2,330.9 1549.0,336.7 1551.8,355.5 1552.5,360.7 1553.0,363.5 1554.0,373.3 1556.0,387.9 1558.0,394.0 1559.5,395.7 1562.0,402.5 1566.0,408.3 1569.5,411.4 1572.0,423.7 1574.5,431.5 1577.0,442.1 1579.5,455.1 1582.5,465.2 1595.0,493.9 1596.5,497.0 1603.0,508.5 1607.5,516.9 1610.0,520.7 1611.5,522.1 1614.0,523.8 1616.0,526.3 1621.5,533.7 1625.0,537.5 1634.5,544.3 1645.0,548.4 1649.5,547.9 1662.5,542.0 1664.5,540.8 1672.5,533.9 1674.5,532.3 1681.5,524.6 1684.0,520.8 1689.0,508.5 1690.0,507.5 1690.0,592.1" fill="#1e9c89" stroke="#ffffff" stroke-opacity="0.2" stroke-width="0.6" stroke-linejoin="round"/>
<polygon points="106.6,592.1 106.6,554.6 107.6,554.6 116.1,547.3 121.1,543.6 125.1,538.1 126.1,536.2 131.1,530.5 142.1,512.2 148.1,502.7 160.6,479.3 164.6,472.5 165.6,471.5 167.6,470.5 170.1,468.6 172.6,467.1 176.6,463.4 179.6,459.7 182.1,456.2 182.6,455.8 185.1,455.7 187.1,456.6 189.6,454.4 194.6,460.7 195.1,461.7 196.1,466.7 200.1,476.6 207.1,488.8 210.1,491.9 220.6,499.7 226.6,503.5 236.6,508.7 250.1,515.0 263.6,520.2 275.1,525.1 312.6,535.0 351.6,544.6 399.6,553.3 420.1,556.3 435.6,556.0 486.6,564.8 538.1,569.8 590.6,572.6 591.1,571.9 594.6,564.6 651.6,567.9 693.1,569.8 776.6,572.1 986.6,573.3 987.1,573.6 991.6,579.3 992.6,579.6 1109.6,576.9 1147.6,574.1 1195.1,569.4 1223.6,565.8 1261.6,559.5 1307.6,551.6 1377.6,541.5 1401.1,537.2 1428.1,530.6 1441.1,526.9 1451.6,524.2 1463.6,519.8 1475.1,514.2 1487.6,504.7 1500.0,491.2 1505.0,484.1 1507.2,480.0 1511.0,470.1 1512.2,465.8 1515.8,447.7 1516.0,446.9 1519.5,446.5 1523.2,450.1 1523.8,450.0 1524.8,448.8 1527.0,443.9 1528.2,439.5 1528.5,437.3 1529.2,425.3 1529.5,419.9 1529.8,415.1 1530.8,398.3 1531.0,393.6 1532.0,378.1 1532.2,375.3 1534.0,361.1 1534.5,357.5 1535.0,354.9 1538.0,341.1 1539.0,337.9 1542.5,327.2 1542.8,326.7 1543.2,327.4 1546.0,338.9 1547.0,343.9 1547.5,347.5 1549.0,358.8 1550.5,369.2 1552.5,383.4 1553.0,386.2 1554.0,394.7 1556.0,405.0 1558.0,409.0 1559.5,409.9 1565.8,427.0 1569.5,433.4 1572.0,444.7 1574.5,452.8 1577.0,462.5 1579.5,474.1 1582.5,483.1 1594.8,510.3 1597.0,514.6 1602.5,524.2 1607.0,532.8 1610.0,537.3 1611.0,538.3 1614.0,539.5 1615.5,541.2 1621.5,549.2 1625.0,553.1 1634.5,559.3 1645.0,563.5 1649.5,562.5 1662.0,556.3 1664.5,554.7 1672.0,548.4 1674.5,546.8 1682.0,540.1 1684.0,537.5 1689.0,525.5 1690.0,524.5 1690.0,592.1" fill="#2fb47c" stroke="#ffffff" stroke-opacity="0.2" stroke-width="0.6" stroke-linejoin="round"/>
<polygon points="106.6,592.1 106.6,567.4 107.6,567.4 117.1,560.0 121.1,557.1 125.1,551.2 126.1,549.4 131.1,544.5 144.6,523.2 148.6,516.8 160.1,496.5 164.6,489.6 165.6,488.7 167.6,488.1 170.6,486.8 172.6,486.0 177.1,482.6 179.6,480.1 182.1,477.1 183.1,476.6 185.1,476.0 187.6,476.0 189.6,475.4 193.1,479.9 194.6,482.0 195.1,482.9 196.1,486.8 200.1,495.5 207.6,506.6 210.1,509.0 221.6,517.0 226.1,519.6 238.6,525.7 250.6,531.0 266.1,536.9 275.6,540.6 323.6,553.0 351.6,559.8 394.1,567.4 420.1,571.3 435.6,570.9 487.6,578.6 538.6,583.5 596.6,587.0 597.1,586.8 599.1,580.4 599.6,579.1 648.6,581.7 688.6,584.2 773.6,586.8 798.1,588.4 911.1,590.6 980.1,591.1 985.1,596.0 1110.6,593.8 1138.6,591.8 1177.1,587.7 1219.1,580.9 1294.1,567.4 1322.1,563.4 1376.6,556.7 1399.6,552.9 1429.6,545.0 1440.6,541.9 1451.6,539.3 1463.6,535.1 1475.1,529.7 1487.6,520.4 1500.2,506.9 1505.0,500.7 1507.5,496.2 1511.0,488.0 1512.2,483.8 1515.8,468.1 1516.0,467.3 1519.5,465.3 1523.5,468.7 1524.5,468.2 1527.0,463.6 1528.2,460.0 1528.5,457.8 1529.2,444.2 1529.5,438.7 1529.8,434.1 1530.8,418.8 1532.0,397.3 1532.2,394.4 1534.2,378.4 1534.5,376.5 1534.8,375.2 1538.2,360.5 1542.5,348.8 1542.8,348.3 1543.2,348.5 1546.0,358.7 1547.0,363.0 1547.2,364.5 1549.2,379.1 1551.2,393.5 1552.5,402.7 1553.0,405.4 1554.0,412.8 1556.0,419.4 1558.0,421.7 1559.5,421.9 1562.0,429.0 1565.8,443.0 1569.5,451.9 1572.0,462.5 1575.0,472.5 1577.2,480.8 1579.5,490.1 1582.8,498.8 1594.8,524.6 1597.8,530.0 1602.5,538.3 1607.0,547.0 1610.0,551.3 1611.0,552.2 1614.0,552.8 1615.0,553.7 1621.5,562.3 1625.0,566.4 1635.0,572.2 1645.0,576.3 1650.0,574.6 1661.5,568.4 1665.0,566.1 1672.0,560.4 1675.5,558.4 1682.0,553.7 1684.0,551.7 1689.0,539.8 1690.0,538.8 1690.0,592.1" fill="#5ec962" stroke="#ffffff" stroke-opacity="0.2" stroke-width="0.6" stroke-linejoin="round"/>
<polygon points="106.6,592.1 106.6,578.5 107.6,578.5 119.1,570.2 121.1,568.8 125.6,561.7 126.1,560.8 131.1,556.8 149.1,529.0 160.1,510.7 165.1,503.9 166.6,503.6 172.6,502.5 178.1,499.1 182.6,495.0 186.1,493.4 187.1,493.1 189.6,493.7 192.6,497.7 195.1,501.4 196.1,504.4 199.6,511.2 204.1,517.1 207.6,521.5 210.1,523.8 224.1,532.9 240.1,540.2 251.6,545.0 275.6,553.9 338.1,569.7 352.1,573.0 389.6,579.7 419.6,584.3 435.6,584.6 451.6,587.7 504.1,593.3 596.6,600.0 597.1,599.7 599.6,593.1 600.1,592.0 779.1,599.2 980.1,604.1 985.1,609.0 1130.6,606.5 1161.6,604.8 1196.6,601.6 1239.1,596.3 1297.6,587.8 1312.6,584.5 1347.6,575.3 1363.6,572.1 1394.6,567.2 1403.1,565.3 1435.6,556.1 1451.6,552.3 1463.6,548.3 1475.1,543.1 1487.6,534.0 1500.8,520.3 1505.0,515.1 1507.8,510.3 1511.0,503.5 1512.5,498.5 1515.8,485.7 1516.0,485.0 1519.5,481.5 1520.8,482.4 1523.5,484.7 1524.5,484.7 1526.5,481.5 1527.5,479.5 1528.2,477.8 1528.5,475.5 1529.2,460.6 1529.5,455.0 1529.8,450.6 1530.8,436.6 1531.0,432.4 1532.0,414.0 1532.2,410.9 1534.2,394.9 1534.5,393.0 1534.8,391.7 1538.2,378.1 1542.8,367.1 1543.2,366.8 1544.2,370.0 1546.5,377.6 1547.0,379.5 1547.2,380.9 1549.2,395.3 1550.5,404.4 1552.5,419.3 1553.0,422.0 1554.0,428.5 1556.0,432.0 1558.2,432.6 1559.5,432.3 1562.0,439.5 1565.8,456.9 1569.5,468.0 1572.2,478.7 1577.2,495.7 1579.5,504.0 1583.0,512.4 1594.8,537.0 1602.5,550.4 1607.0,559.2 1610.0,563.4 1611.0,564.2 1614.0,564.2 1615.0,565.1 1621.5,573.6 1625.0,577.8 1635.5,583.4 1645.0,587.4 1651.0,584.7 1661.0,579.0 1666.0,575.5 1672.0,570.8 1677.0,568.3 1682.5,565.1 1684.0,564.0 1689.0,552.2 1690.0,551.2 1690.0,592.1" fill="#9bd93c" stroke="#ffffff" stroke-opacity="0.2" stroke-width="0.6" stroke-linejoin="round"/>
<polygon points="106.6,592.1 106.6,588.2 107.6,588.2 121.1,579.1 126.1,570.8 131.1,567.5 146.1,545.1 160.1,523.2 165.1,517.0 166.1,516.8 172.6,516.6 178.6,513.3 182.6,509.8 187.1,506.4 189.6,508.4 192.1,511.9 195.1,516.6 196.1,518.9 199.6,525.2 208.1,535.1 210.1,536.9 225.1,546.0 251.6,557.0 275.6,565.6 349.1,584.1 385.6,590.5 416.1,595.2 421.1,595.7 437.1,596.2 596.6,612.0 597.1,611.7 599.6,605.1 600.1,604.0 987.6,620.0 1108.6,618.8 1146.1,616.4 1187.1,612.4 1233.6,606.7 1289.1,598.6 1359.6,586.9 1384.1,581.7 1403.6,576.8 1439.1,566.6 1451.6,563.8 1464.1,559.7 1475.1,555.0 1487.6,546.0 1503.0,530.2 1505.0,527.8 1508.5,521.8 1511.0,517.2 1512.8,511.6 1515.8,501.2 1516.0,500.6 1519.5,495.9 1520.2,496.2 1523.8,498.9 1524.5,499.2 1525.5,497.9 1527.8,494.4 1528.2,493.5 1528.5,491.1 1529.2,475.0 1529.5,469.4 1529.8,465.2 1530.8,452.3 1531.0,448.3 1532.0,428.6 1532.2,425.5 1534.5,407.6 1534.8,406.3 1538.2,393.6 1542.8,383.6 1543.2,383.0 1544.0,385.0 1547.0,394.0 1547.2,395.4 1549.8,413.1 1552.5,434.0 1553.2,438.0 1554.0,442.3 1556.2,442.9 1558.5,442.1 1559.5,441.5 1562.0,448.7 1565.8,469.1 1570.0,484.0 1572.8,494.0 1575.2,502.4 1579.0,514.6 1579.5,516.2 1583.8,525.5 1594.8,547.9 1602.5,561.2 1607.0,570.1 1610.0,574.1 1611.0,574.9 1614.0,574.4 1615.0,575.1 1621.5,583.6 1625.0,587.9 1638.5,594.4 1645.0,597.2 1656.5,590.9 1661.5,587.8 1672.0,580.0 1683.5,575.1 1684.0,574.8 1689.0,563.1 1690.0,562.2 1690.0,592.1" fill="#dfe318" stroke="#ffffff" stroke-opacity="0.2" stroke-width="0.6" stroke-linejoin="round"/>
<polygon points="106.6,592.1 106.6,597.0 107.6,597.0 121.1,588.4 126.1,579.8 131.1,577.1 142.1,561.3 160.1,534.4 165.1,528.7 166.1,528.6 172.1,529.7 178.6,527.1 184.1,522.9 187.1,519.8 188.1,520.9 191.6,525.6 199.6,538.2 209.6,548.3 225.1,557.3 252.6,568.1 276.1,576.2 350.6,594.7 385.1,600.8 419.6,605.9 442.1,607.7 596.6,623.0 597.1,622.7 599.6,616.1 600.1,615.0 987.6,631.0 1108.1,629.8 1147.6,627.2 1192.1,622.9 1245.6,616.5 1310.1,607.5 1340.1,602.0 1359.6,597.8 1388.6,590.4 1401.1,588.0 1438.6,576.9 1451.6,574.1 1464.1,570.1 1475.1,565.6 1487.6,556.7 1504.8,539.6 1511.0,529.4 1516.0,514.5 1519.5,508.7 1520.0,508.8 1524.5,512.2 1525.2,511.4 1528.2,507.5 1528.5,505.0 1529.5,482.3 1529.8,478.2 1530.8,466.4 1531.0,462.5 1532.0,441.8 1532.2,438.5 1534.5,420.6 1534.8,419.3 1538.2,407.5 1543.2,397.4 1543.8,398.5 1547.0,407.0 1547.2,408.3 1549.8,425.9 1552.5,447.2 1554.0,454.7 1559.5,449.7 1562.0,457.0 1565.8,480.1 1569.8,495.7 1574.8,513.0 1579.5,527.2 1594.2,556.8 1602.0,569.8 1607.0,579.7 1610.0,583.7 1611.0,584.4 1614.0,583.4 1615.0,584.1 1621.5,592.6 1625.0,597.0 1645.0,606.0 1661.0,596.3 1672.0,588.2 1684.0,584.5 1687.5,576.5 1689.0,572.9 1690.0,572.0 1690.0,592.1" fill="#ffffff" stroke="#ffffff" stroke-opacity="0.2" stroke-width="0.6" stroke-linejoin="round"/>
<polygon points="242.0,221.0 239.0,225.5 236.1,229.7 240.2,233.8 243.8,238.0 245.0,230.0" fill="#2f6c8e"/>
<polygon points="258.2,236.0 259.5,241.0 263.7,243.2 262.3,239.1 260.3,233.8 259.0,224.0 257.5,226.0" fill="#2f6c8e"/>
<polygon points="107.6,101.0 107.7,101.2 108.1,101.8 109.2,103.5 111.7,107.2 113.4,110.5 115.0,115.1 117.0,116.6 120.3,115.7 123.2,114.7 127.4,113.1 130.4,113.4 133.7,115.9 136.2,117.6 139.1,119.2 141.3,118.4 143.8,114.6 145.6,111.5 147.7,107.3 149.6,104.4 152.6,101.3 155.2,99.9 158.9,99.8 161.7,100.8 165.1,103.8 166.9,106.4 168.2,110.1 168.8,113.4 168.9,117.9 169.1,123.3 169.3,132.4 168.9,137.3 167.7,140.7 167.7,143.6 168.9,147.8 170.2,151.1 172.3,155.2 173.8,158.9 175.4,163.8 176.4,167.6 177.3,172.2 177.7,175.8 177.8,180.4 177.7,179.5 177.4,172.7 176.8,167.8 176.0,162.2 175.8,157.5 176.4,151.2 176.8,146.9 177.1,142.2 177.4,138.8 177.5,134.6 177.6,131.2 177.6,126.8 177.9,123.4 178.8,119.2 180.1,118.4 182.6,120.5 184.6,122.5 187.0,125.4 188.7,128.0 190.3,131.6 192.0,134.1 194.5,137.1 196.6,139.0 199.6,141.1 201.9,142.4 204.8,143.7 206.5,142.5 207.7,138.3 209.0,135.4 211.1,132.0 213.4,129.4 217.2,126.3 220.2,124.5 223.9,123.0 227.0,122.3 231.2,122.0 234.3,122.0 238.1,122.6 239.9,124.5 240.7,128.7 240.9,133.5 240.7,141.8 240.5,148.3 240.4,156.7 240.2,163.3 240.1,171.5 239.9,178.1 239.7,186.4 239.4,192.3 239.0,199.0 238.5,203.2 237.6,207.4 237.0,211.0 236.1,216.2 234.7,220.9 232.0,227.9 230.3,232.9 229.0,238.4 227.6,242.0 225.4,245.5 225.4,248.3 227.6,251.7 229.5,254.5 232.3,257.9 234.8,259.5 238.2,259.9 241.2,260.2 245.4,260.5 248.7,260.9 252.9,261.5 256.1,262.5 260.4,264.1 263.6,265.1 267.9,266.0 271.1,266.0 275.4,265.1 278.5,264.4 282.5,263.5 283.7,261.2 283.0,256.3 282.3,251.1 281.1,242.7 279.9,236.9 277.8,230.7 275.9,227.3 273.1,224.9 270.8,224.5 267.6,225.8 265.4,226.0 263.0,225.3 261.8,223.5 261.4,219.5 261.0,216.4 260.6,212.2 260.2,208.6 259.9,203.6 259.5,200.0 259.2,195.8 258.9,189.9 258.7,179.1 258.6,164.9 258.8,139.9 259.0,128.2 259.3,123.8 260.1,121.6 261.4,120.4 263.6,120.4 267.9,121.3 271.7,122.4 277.3,124.0 282.2,125.2 289.2,126.5 295.3,128.4 303.6,132.1 310.7,136.0 320.5,142.2 329.8,148.3 343.7,157.3 354.7,164.2 368.7,172.5 379.7,178.6 393.5,185.6 406.9,191.8 427.1,200.5 440.5,206.9 454.5,214.1 465.5,219.2 479.4,224.8 490.4,228.9 504.3,233.8 513.1,236.5 521.4,238.6 526.4,239.8 530.6,241.0 531.1,242.0 528.3,243.6 525.0,244.4 519.5,245.0 515.6,245.2 511.4,245.4 508.2,245.3 503.9,245.1 500.4,244.9 495.5,244.5 495.5,244.9 500.4,246.1 505.6,247.1 514.0,248.3 521.1,249.4 530.9,250.8 540.2,252.2 554.1,254.1 565.1,255.4 579.1,256.8 590.1,257.7 604.0,258.9 615.0,259.6 628.9,260.3 639.9,260.8 653.8,261.1 664.8,261.5 678.7,262.1 689.7,262.5 703.7,262.9 714.7,263.3 728.6,263.6 742.0,264.0 762.1,264.6 775.5,265.0 789.4,265.6 800.4,266.0 814.3,266.6 825.3,267.1 839.3,267.8 850.3,268.5 864.2,269.4 873.0,270.0 881.4,270.6 888.0,270.8 896.3,270.6 904.0,270.3 915.1,269.6 925.0,269.0 939.0,268.4 950.0,267.9 963.9,267.5 974.9,267.0 988.8,266.4 999.8,265.7 1013.7,264.7 1024.7,263.9 1038.7,262.7 1049.7,261.9 1063.6,261.0 1077.0,260.0 1097.1,258.4 1110.5,256.8 1124.5,254.1 1135.5,252.0 1149.4,249.2 1160.4,247.0 1174.3,244.2 1185.3,241.8 1199.2,238.7 1210.2,236.2 1224.1,233.2 1235.1,230.6 1249.1,227.1 1260.1,224.6 1274.0,221.8 1283.3,219.6 1293.2,216.8 1295.8,214.4 1292.6,211.3 1290.4,207.1 1288.0,199.9 1287.3,195.3 1287.9,191.2 1289.0,187.9 1291.2,183.7 1293.4,180.9 1296.8,177.8 1299.6,175.1 1303.0,171.1 1307.2,167.7 1314.2,162.8 1319.6,158.7 1326.6,153.1 1332.0,148.7 1339.0,143.1 1344.5,139.0 1351.5,134.1 1357.0,130.8 1364.0,127.4 1369.5,125.6 1376.5,124.6 1381.9,124.5 1388.9,125.2 1394.3,126.4 1401.3,128.8 1406.0,130.4 1410.9,132.0 1414.5,132.1 1418.6,130.8 1422.2,130.1 1427.1,129.8 1429.8,131.1 1432.0,134.6 1433.1,139.6 1433.7,148.6 1433.9,155.5 1433.6,163.8 1434.2,168.4 1435.8,171.7 1438.1,172.3 1442.0,170.3 1445.0,169.6 1448.5,169.6 1450.2,167.9 1450.8,163.8 1451.6,160.5 1453.0,156.3 1454.7,153.6 1457.5,150.8 1460.2,149.1 1464.4,147.8 1468.0,147.1 1472.9,146.8 1476.5,146.5 1480.6,146.1 1483.7,146.5 1487.1,147.8 1490.2,148.5 1494.3,148.8 1497.4,148.4 1500.8,147.2 1503.6,145.2 1507.0,141.2 1509.5,138.6 1512.3,135.8 1514.2,133.9 1516.3,131.8 1518.5,130.4 1522.0,129.1 1524.8,128.9 1528.2,129.8 1530.7,131.5 1533.5,134.7 1535.0,137.9 1536.2,142.8 1536.7,146.9 1537.0,152.5 1537.4,156.9 1538.0,162.4 1538.3,167.9 1538.3,176.3 1538.0,181.8 1537.4,187.3 1537.1,192.8 1537.1,201.2 1536.8,206.2 1536.1,210.3 1535.2,214.7 1533.8,221.7 1532.8,227.2 1531.4,234.2 1530.6,240.2 1529.9,248.6 1529.5,255.2 1529.2,263.5 1528.9,270.1 1528.6,278.5 1528.1,285.1 1527.4,293.4 1526.8,298.6 1526.2,303.6 1524.2,306.6 1520.1,309.3 1517.6,311.8 1515.5,315.3 1514.3,318.9 1513.1,324.4 1512.3,328.8 1511.3,334.4 1510.5,338.8 1509.6,344.4 1508.8,348.2 1507.6,352.1 1506.1,355.7 1503.3,360.6 1501.1,364.0 1498.3,367.6 1495.5,371.4 1491.4,377.5 1488.1,382.4 1483.9,388.6 1480.6,392.8 1476.5,397.0 1472.0,400.5 1465.0,405.4 1459.6,408.9 1452.6,413.2 1447.7,414.8 1442.1,414.8 1437.5,415.5 1431.4,417.1 1426.3,418.8 1419.3,421.3 1413.8,423.5 1406.8,426.5 1398.6,429.3 1384.7,433.6 1373.7,436.7 1359.8,440.7 1348.8,443.4 1334.8,446.5 1323.8,449.0 1309.9,452.1 1298.9,454.5 1285.0,457.3 1274.0,459.2 1260.1,461.3 1249.1,462.7 1235.1,464.1 1224.1,465.3 1210.2,466.9 1199.2,468.2 1185.3,469.6 1174.3,470.5 1160.4,471.7 1149.4,472.5 1135.5,473.7 1124.5,474.4 1110.5,475.2 1097.1,475.7 1077.0,476.4 1063.6,476.8 1049.7,477.4 1042.1,477.8 1036.8,478.1 1033.8,477.3 1031.4,474.8 1028.0,473.8 1021.7,473.8 1008.2,474.0 980.4,474.4 960.6,474.7 938.3,475.0 927.9,475.4 923.6,476.3 920.4,477.8 916.2,480.9 912.4,483.7 906.8,487.9 902.4,490.9 896.8,494.4 893.0,496.2 888.8,497.4 883.3,498.0 873.5,498.6 864.2,499.0 850.3,499.3 839.3,499.7 825.3,500.1 814.3,500.4 800.4,500.7 789.4,500.8 775.5,500.6 762.1,500.3 742.0,499.6 728.6,498.9 714.7,497.7 703.7,496.8 689.7,495.4 678.7,494.1 664.8,492.3 656.6,491.2 649.6,490.2 645.5,489.2 642.0,487.9 639.2,486.2 635.8,483.4 633.0,480.9 629.6,477.5 626.8,474.5 623.3,470.2 620.8,467.9 618.1,466.1 615.4,465.2 611.1,464.6 604.0,464.0 590.1,462.8 579.1,462.0 565.1,460.8 558.2,460.7 554.8,461.6 552.0,462.9 548.6,465.6 544.5,466.2 537.5,465.3 529.2,464.3 515.3,462.9 504.3,461.7 490.4,460.1 479.4,458.4 465.4,455.9 454.4,453.6 440.5,450.5 431.5,448.6 422.5,447.2 414.6,445.7 403.5,443.2 393.6,441.1 379.7,438.3 368.7,436.0 354.8,432.9 343.8,430.4 329.8,427.3 318.8,424.7 304.9,421.6 296.6,419.5 289.6,417.6 284.2,415.9 277.2,413.7 271.8,411.5 264.8,408.1 259.3,405.3 252.3,401.3 246.8,397.9 239.8,393.0 234.9,389.7 229.3,386.3 225.4,383.9 221.2,381.4 218.5,379.2 215.8,376.1 213.6,373.2 210.8,369.0 208.6,365.5 205.8,360.6 203.9,356.8 201.8,351.9 200.2,348.4 198.0,344.1 196.4,344.1 194.3,348.4 192.1,350.8 188.6,352.9 186.4,352.1 184.3,347.8 183.2,344.4 182.6,339.7 181.9,334.6 180.7,326.3 179.9,321.3 178.9,317.1 177.7,315.2 175.6,314.9 173.4,316.0 169.9,319.1 167.8,323.4 166.0,331.0 164.6,335.9 163.0,340.9 162.0,344.9 161.4,350.4 160.4,355.2 158.5,362.2 156.9,368.8 154.5,378.5 152.8,384.9 150.7,391.1 148.8,396.5 146.0,403.9 143.2,409.9 139.1,417.9 136.0,424.3 132.6,432.7 129.5,438.6 125.3,445.1 122.0,449.2 117.9,453.2 114.5,456.6 110.4,461.5 108.5,463.6 107.8,464.3 107.6,464.5 106.6,464.5 106.6,101.0" fill="#463480"/>
<polygon points="1544.6,204.5 1544.5,201.2 1544.2,192.8 1543.9,186.2 1543.5,177.9 1543.0,170.8 1542.4,161.0 1542.2,155.0 1542.5,149.4 1542.9,145.5 1543.8,141.3 1544.8,138.2 1546.4,134.2 1548.5,132.9 1551.9,133.3 1554.7,133.8 1558.1,134.4 1560.9,134.4 1564.3,133.8 1567.1,133.8 1570.6,134.4 1573.1,136.3 1575.9,140.5 1576.5,143.8 1575.0,148.0 1574.0,150.7 1572.5,153.2 1573.4,154.0 1576.8,153.6 1580.1,152.8 1585.0,151.5 1588.6,150.6 1592.8,150.0 1596.1,150.2 1600.2,151.6 1603.6,151.4 1607.8,149.2 1611.0,147.6 1615.2,145.5 1618.2,143.6 1621.7,140.8 1622.8,136.9 1622.1,129.9 1621.8,124.5 1621.8,117.5 1622.6,113.1 1624.8,109.0 1627.2,106.8 1631.4,105.3 1634.7,104.9 1638.8,105.2 1642.2,105.5 1646.3,105.9 1649.4,106.5 1652.8,107.4 1655.6,109.1 1659.1,112.2 1661.6,114.9 1664.4,118.4 1666.6,120.9 1669.3,123.6 1671.8,123.9 1675.3,121.8 1678.1,120.8 1681.5,120.5 1684.3,120.6 1688.0,121.5 1689.4,121.8 1690.4,121.8 1690.4,434.7 1689.4,434.7 1688.5,436.1 1686.3,439.6 1684.3,442.6 1681.5,446.8 1679.0,450.3 1675.6,455.3 1672.8,458.6 1669.3,462.0 1666.3,464.5 1662.1,467.3 1658.6,469.1 1653.6,470.9 1649.5,471.6 1644.0,471.6 1639.6,470.9 1634.0,469.1 1629.9,467.0 1625.0,463.5 1621.4,460.5 1617.2,456.3 1614.2,452.5 1610.8,446.9 1608.3,442.8 1605.5,437.9 1603.6,434.1 1601.5,429.1 1599.9,424.5 1597.7,417.5 1595.8,412.1 1593.0,405.1 1591.1,399.6 1589.0,392.6 1587.7,387.1 1586.2,380.1 1585.3,374.6 1584.4,367.6 1583.3,362.0 1581.4,354.5 1580.3,349.4 1579.4,343.8 1578.6,338.9 1577.4,331.9 1576.5,330.2 1575.0,333.0 1573.4,335.5 1570.6,339.0 1568.4,337.4 1565.6,329.6 1564.2,325.0 1563.6,320.8 1562.8,317.0 1561.3,311.4 1560.1,305.9 1558.2,297.5 1557.1,291.5 1556.2,284.5 1555.2,278.8 1553.8,271.1 1552.9,265.1 1551.9,257.4 1551.1,251.1 1550.0,242.7 1549.3,236.1 1548.6,227.7 1548.0,221.4 1547.4,213.7 1546.5,209.3 1545.1,205.9 1544.6,204.5" fill="#463480"/>
<polygon points="520.1,221.1 519.6,219.8 519.7,218.8 520.3,217.4 521.5,216.2 523.8,214.6 526.9,213.3 532.5,211.4 537.5,210.0 544.5,208.3 551.0,207.2 560.8,206.0 569.0,205.1 580.2,203.8 595.6,202.8 623.4,201.4 645.4,200.7 673.2,200.4 703.1,200.4 751.1,200.7 781.0,201.1 808.8,201.7 830.8,201.9 858.7,201.6 880.7,201.1 908.5,199.9 925.0,199.3 939.0,199.0 950.0,199.0 963.9,199.3 980.4,199.8 1008.2,200.5 1030.2,201.1 1058.1,201.7 1077.0,202.2 1097.1,202.8 1110.5,203.1 1124.5,203.2 1136.0,203.5 1151.3,203.8 1158.0,204.4 1159.8,205.6 1158.7,206.9 1154.2,209.1 1150.2,211.8 1144.6,216.4 1139.7,219.8 1132.7,224.0 1127.2,226.8 1120.2,229.6 1114.8,231.8 1107.8,234.6 1097.1,236.5 1077.0,238.6 1063.6,240.0 1049.7,241.3 1038.7,242.3 1024.7,243.5 1013.7,244.2 999.8,244.8 988.8,245.4 974.9,246.1 963.9,246.5 950.0,246.8 934.6,247.2 909.5,247.8 893.0,248.5 876.3,249.5 864.2,250.3 850.3,251.5 840.9,251.9 831.1,251.9 820.2,251.6 802.0,250.9 789.4,250.6 775.5,250.6 762.1,250.2 742.0,249.3 728.6,248.6 714.7,247.9 703.7,247.3 689.7,246.7 678.7,246.0 664.8,244.8 653.8,243.7 639.9,242.1 628.9,240.7 615.0,238.9 604.0,237.4 590.1,235.2 579.1,233.6 565.1,231.5 554.1,229.8 540.2,227.3 532.5,225.9 526.9,224.5 523.7,223.5 521.3,222.1" fill="#463480"/>
<polygon points="1389.1,192.5 1397.9,189.5 1404.1,179.6 1411.1,169.6 1416.6,174.6 1420.3,181.6 1412.8,185.8 1405.3,188.3" fill="#3b528b"/>
<polygon points="177.8,288.0 176.0,291.7 178.5,296.2 179.5,292.0" fill="#3b528b"/>
<polygon points="102.7,179.3 114.7,179.3 120.7,179.9 124.1,181.6 126.5,183.7 129.5,187.5 131.7,188.8 134.7,188.4 137.5,186.5 141.7,182.3 144.9,178.9 149.1,174.3 152.3,171.9 156.5,170.2 158.9,170.4 160.5,172.5 161.7,176.9 162.9,186.1 163.4,193.0 163.4,201.3 163.2,206.9 162.5,212.7 161.8,218.7 160.4,228.3 159.0,236.9 156.8,249.5 154.9,257.1 152.2,264.1 151.4,270.1 152.0,278.5 152.4,287.3 152.7,301.2 152.2,310.5 150.5,320.2 148.5,328.4 145.0,339.6 142.2,346.9 138.8,354.1 135.8,360.7 131.6,370.3 128.9,375.8 126.1,380.6 122.8,385.6 117.2,393.8 113.4,398.2 109.2,401.1 105.5,403.3 100.1,406.0 98.0,356.9 98.0,229.4" fill="#471365" stroke="#ffffff" stroke-opacity="0.2" stroke-width="0.6" stroke-linejoin="round"/>
<polygon points="183.6,147.4 185.8,147.7 187.6,149.6 190.0,153.8 192.3,156.5 195.7,159.5 198.3,160.9 201.7,161.8 205.0,161.3 209.9,159.2 213.6,158.1 217.8,157.2 220.4,157.9 222.9,160.3 224.2,164.3 224.8,171.8 225.0,178.1 224.7,186.4 224.4,193.0 224.1,201.3 223.3,206.9 221.6,212.7 220.4,218.7 219.0,228.3 217.8,237.5 216.5,251.4 214.5,258.8 211.1,263.7 208.0,266.7 203.8,269.5 200.5,272.2 196.3,276.4 193.0,279.4 188.8,282.9 186.4,279.9 184.3,268.7 182.9,258.8 181.6,244.9 180.7,235.6 180.1,225.8 180.2,218.7 181.1,210.3 182.0,203.2 183.4,193.5 183.8,184.8 183.4,172.2 183.2,162.9 182.9,151.6" fill="#471365" stroke="#ffffff" stroke-opacity="0.2" stroke-width="0.6" stroke-linejoin="round"/>
<polygon points="287.2,180.3 289.2,178.7 291.1,178.1 293.9,178.4 296.3,179.4 299.7,181.6 302.1,183.8 304.9,187.2 306.6,189.9 308.3,193.6 308.5,195.9 307.4,198.1 305.9,199.1 303.1,199.4 300.7,198.8 297.3,197.2 294.7,195.3 291.3,192.2 289.3,189.8 287.5,186.7 286.7,184.5 286.5,182.0" fill="#471365" stroke="#ffffff" stroke-opacity="0.2" stroke-width="0.6" stroke-linejoin="round"/>
<polygon points="248.7,308.1 252.9,305.3 258.9,303.9 270.1,303.3 280.0,303.8 293.9,305.9 304.9,306.4 318.8,305.8 329.8,305.3 343.8,304.9 354.8,304.6 368.7,304.3 376.7,304.8 382.9,306.1 386.2,305.3 388.3,301.9 391.3,299.1 396.9,295.6 401.9,293.2 408.9,290.5 414.3,288.1 421.3,284.4 426.4,283.0 432.6,283.0 439.4,284.1 450.6,286.9 457.2,288.6 462.8,289.9 467.7,290.2 474.7,289.6 479.0,289.8 483.2,291.2 495.9,292.0 523.7,292.7 551.2,293.7 593.0,295.5 625.9,296.9 667.8,298.5 703.1,299.6 751.1,300.8 786.5,301.2 828.3,301.2 855.8,300.8 883.6,299.6 911.1,298.6 952.9,297.2 980.4,296.4 1008.2,295.8 1027.4,295.3 1048.4,294.9 1059.3,295.0 1066.3,295.9 1071.8,295.6 1078.8,294.2 1086.7,293.5 1099.9,293.2 1116.0,292.2 1143.9,290.1 1165.9,288.8 1193.7,287.4 1215.7,286.5 1243.6,285.8 1260.1,285.7 1274.0,286.1 1282.8,286.9 1291.1,288.2 1296.6,289.7 1302.2,292.1 1305.5,294.1 1308.3,296.9 1310.0,299.1 1311.4,301.9 1313.0,302.7 1315.8,302.0 1319.6,301.1 1326.6,299.8 1334.8,298.5 1348.8,296.9 1359.8,295.8 1373.7,294.6 1384.7,293.8 1398.6,292.6 1408.7,291.8 1420.3,290.9 1430.4,290.2 1444.4,289.6 1454.3,289.4 1465.4,289.7 1471.5,290.5 1475.6,292.3 1478.1,294.4 1480.2,297.8 1481.3,300.8 1482.0,305.1 1481.5,308.9 1479.3,314.5 1477.1,318.6 1473.7,323.5 1470.1,327.3 1464.5,332.2 1459.6,335.8 1452.6,340.0 1447.2,342.4 1440.2,344.5 1434.7,346.1 1427.7,348.3 1422.2,350.2 1415.2,353.0 1410.7,354.6 1405.9,355.7 1398.6,358.1 1384.7,363.0 1373.7,366.5 1359.8,370.8 1348.8,373.8 1334.8,377.2 1323.8,379.9 1309.9,383.1 1298.9,385.6 1285.0,388.6 1274.0,390.6 1260.1,392.8 1249.1,394.5 1235.1,396.9 1224.1,398.5 1210.2,400.4 1199.2,401.7 1185.3,403.1 1174.3,403.9 1160.4,404.5 1149.4,405.2 1135.5,406.4 1124.5,407.3 1110.5,408.5 1099.9,409.3 1086.7,410.2 1077.8,410.8 1067.9,411.5 1062.4,411.2 1058.2,409.9 1048.4,409.1 1027.4,408.7 1011.0,408.8 990.1,409.5 980.2,410.2 976.0,411.4 973.6,413.0 971.4,416.1 969.5,418.9 966.8,423.1 964.3,425.9 960.8,429.0 956.1,430.8 947.8,432.1 939.0,433.1 925.0,434.3 914.0,435.1 900.1,436.3 889.1,437.1 875.2,438.1 858.7,438.9 830.8,440.0 808.8,440.5 781.0,440.8 762.1,440.5 742.0,439.6 728.6,438.8 714.7,437.6 703.7,436.8 689.7,435.6 678.7,434.5 664.8,432.9 653.8,431.4 639.9,429.3 628.9,427.1 615.0,423.7 605.1,421.3 593.9,418.8 588.4,417.1 585.7,415.5 583.5,412.9 580.7,407.9 577.4,404.5 571.8,400.8 567.4,398.9 561.8,397.7 554.1,396.5 540.2,394.4 533.6,392.9 530.8,391.0 527.0,390.4 520.0,390.5 515.6,391.0 511.4,391.9 504.3,391.5 490.4,389.4 479.4,387.7 465.4,385.3 454.4,383.1 440.5,379.9 427.1,376.9 407.0,372.7 393.6,369.7 379.7,366.3 368.7,363.9 354.8,361.1 343.8,358.5 329.8,354.5 318.8,351.6 304.9,348.0 293.9,344.1 280.0,337.9 271.2,333.5 262.8,328.5 257.3,324.4 251.8,318.9 249.0,315.1 247.7,310.8" fill="#471365" stroke="#ffffff" stroke-opacity="0.2" stroke-width="0.6" stroke-linejoin="round"/>
<polygon points="1441.9,206.6 1444.1,205.4 1446.0,203.8 1448.8,200.7 1451.5,197.3 1455.7,191.7 1459.0,188.4 1463.1,185.7 1466.2,184.0 1469.6,182.7 1471.5,180.4 1473.0,176.2 1474.9,173.5 1478.4,170.7 1482.0,168.8 1487.5,166.7 1491.9,165.3 1497.5,164.0 1501.9,162.7 1507.5,161.1 1511.3,160.8 1515.5,161.7 1518.2,162.7 1521.0,164.0 1522.5,166.2 1523.7,170.4 1524.2,175.9 1524.5,185.7 1524.3,193.3 1523.7,203.2 1523.1,208.7 1522.4,212.8 1521.3,218.3 1519.2,228.2 1517.9,236.4 1516.5,247.5 1515.1,253.0 1513.0,255.8 1511.7,260.1 1510.2,268.1 1503.7,271.5 1488.3,272.1 1480.6,270.5 1476.5,266.1 1472.0,261.0 1465.0,252.7 1459.6,245.6 1452.6,235.8 1448.2,228.7 1444.1,220.3 1442.1,214.8 1441.4,209.2" fill="#471365" stroke="#ffffff" stroke-opacity="0.2" stroke-width="0.6" stroke-linejoin="round"/>
<polygon points="1555.0,175.9 1556.5,172.8 1560.8,172.0 1570.7,173.0 1580.0,173.7 1593.9,174.3 1601.9,174.6 1608.1,174.6 1610.9,173.8 1611.6,171.7 1611.2,170.1 1609.6,167.9 1609.6,166.3 1611.2,164.2 1613.0,163.1 1615.7,162.4 1617.9,162.7 1620.7,164.0 1622.3,165.7 1623.8,168.5 1624.6,171.8 1625.3,177.4 1625.6,185.6 1625.6,201.0 1624.2,209.2 1620.7,214.8 1619.6,220.3 1620.3,228.7 1619.5,236.6 1616.7,248.5 1624.6,253.4 1647.7,254.1 1656.7,252.2 1656.7,246.6 1655.0,241.7 1650.9,234.7 1648.4,226.5 1646.3,212.5 1645.5,204.2 1645.5,197.2 1646.3,193.3 1648.4,190.2 1652.0,188.8 1659.0,188.5 1664.5,188.5 1671.5,188.8 1675.9,189.9 1680.0,192.4 1682.8,194.7 1685.5,198.1 1687.2,200.6 1688.8,203.4 1691.5,206.8 1696.9,212.7 1699.0,246.9 1699.0,328.1 1696.9,362.2 1691.5,367.8 1688.2,372.7 1685.2,379.7 1681.8,386.2 1676.4,396.0 1672.5,401.4 1668.4,405.7 1665.0,407.6 1660.9,408.2 1657.0,409.3 1651.4,411.5 1647.0,411.8 1641.5,410.4 1637.1,408.4 1631.5,405.0 1628.2,403.3 1625.4,402.6 1622.6,400.1 1618.5,394.5 1615.2,389.0 1611.0,380.7 1608.0,374.1 1604.5,365.7 1601.7,359.1 1598.3,350.8 1596.4,345.1 1595.0,339.0 1593.3,332.8 1590.5,323.0 1588.7,315.3 1587.1,305.6 1586.2,298.7 1585.9,291.0 1584.0,288.0 1579.9,288.0 1577.7,288.8 1576.2,290.9 1574.9,289.5 1572.8,284.0 1570.6,278.5 1567.1,270.1 1564.9,263.5 1562.8,255.2 1560.9,247.5 1558.1,236.4 1556.5,226.5 1555.0,212.5 1554.4,203.2 1554.1,193.3 1554.1,186.8 1554.4,179.8" fill="#471365" stroke="#ffffff" stroke-opacity="0.2" stroke-width="0.6" stroke-linejoin="round"/>
<polygon points="1307.6,258.7 1310.7,253.8 1314.6,250.5 1321.6,247.0 1327.6,244.9 1336.0,243.1 1341.2,243.4 1346.1,245.9 1348.0,249.1 1348.0,254.7 1346.6,258.8 1343.2,263.7 1339.0,266.9 1332.0,270.0 1327.1,271.9 1321.6,273.2 1317.2,272.8 1311.6,270.3 1308.7,267.4 1307.1,262.5" fill="#471365" stroke="#ffffff" stroke-opacity="0.2" stroke-width="0.6" stroke-linejoin="round"/>
<polygon points="1353.8,250.2 1355.9,246.1 1358.6,243.6 1363.6,241.4 1366.9,241.7 1370.3,244.5 1371.7,247.2 1371.7,251.4 1370.6,254.5 1367.8,257.9 1365.0,259.9 1360.9,261.2 1358.0,261.0 1354.9,258.9 1353.5,256.7 1353.2,253.3" fill="#471365" stroke="#ffffff" stroke-opacity="0.2" stroke-width="0.6" stroke-linejoin="round"/>
<polyline points="107.6,101.0 107.7,101.2 108.1,101.8 109.2,103.5 111.7,107.2 113.4,110.5 115.0,115.1 117.0,116.6 120.3,115.7 123.2,114.7 127.4,113.1 130.4,113.4 133.7,115.9 136.2,117.6 139.1,119.2 141.3,118.4 143.8,114.6 145.6,111.5 147.7,107.3 149.6,104.4 152.6,101.3 155.2,99.9 158.9,99.8 161.7,100.8 165.1,103.8 166.9,106.4 168.2,110.1 168.8,113.4 168.9,117.9 169.1,123.3 169.3,132.4 168.9,137.3 167.7,140.7 167.7,143.6 168.9,147.8 170.2,151.1 172.3,155.2 173.8,158.9 175.4,163.8 176.4,167.6 177.3,172.2 177.7,175.8 177.8,180.4 177.7,179.5 177.4,172.7 176.8,167.8 176.0,162.2 175.8,157.5 176.4,151.2 176.8,146.9 177.1,142.2 177.4,138.8 177.5,134.6 177.6,131.2 177.6,126.8 177.9,123.4 178.8,119.2 180.1,118.4 182.6,120.5 184.6,122.5 187.0,125.4 188.7,128.0 190.3,131.6 192.0,134.1 194.5,137.1 196.6,139.0 199.6,141.1 201.9,142.4 204.8,143.7 206.5,142.5 207.7,138.3 209.0,135.4 211.1,132.0 213.4,129.4 217.2,126.3 220.2,124.5 223.9,123.0 227.0,122.3 231.2,122.0 234.3,122.0 238.1,122.6 239.9,124.5 240.7,128.7 240.9,133.5 240.7,141.8 240.5,148.3 240.4,156.7 240.2,163.3 240.1,171.5 239.9,178.1 239.7,186.4 239.4,192.3 239.0,199.0 238.5,203.2 237.6,207.4 237.0,211.0 236.1,216.2 234.7,220.9 232.0,227.9 230.3,232.9 229.0,238.4 227.6,242.0 225.4,245.5 225.4,248.3 227.6,251.7 229.5,254.5 232.3,257.9 234.8,259.5 238.2,259.9 241.2,260.2 245.4,260.5 248.7,260.9 252.9,261.5 256.1,262.5 260.4,264.1 263.6,265.1 267.9,266.0 271.1,266.0 275.4,265.1 278.5,264.4 282.5,263.5 283.7,261.2 283.0,256.3 282.3,251.1 281.1,242.7 279.9,236.9 277.8,230.7 275.9,227.3 273.1,224.9 270.8,224.5 267.6,225.8 265.4,226.0 263.0,225.3 261.8,223.5 261.4,219.5 261.0,216.4 260.6,212.2 260.2,208.6 259.9,203.6 259.5,200.0 259.2,195.8 258.9,189.9 258.7,179.1 258.6,164.9 258.8,139.9 259.0,128.2 259.3,123.8 260.1,121.6 261.4,120.4 263.6,120.4 267.9,121.3 271.7,122.4 277.3,124.0 282.2,125.2 289.2,126.5 295.3,128.4 303.6,132.1 310.7,136.0 320.5,142.2 329.8,148.3 343.7,157.3 354.7,164.2 368.7,172.5 379.7,178.6 393.5,185.6 406.9,191.8 427.1,200.5 440.5,206.9 454.5,214.1 465.5,219.2 479.4,224.8 490.4,228.9 504.3,233.8 513.1,236.5 521.4,238.6 526.4,239.8 530.6,241.0 531.1,242.0 528.3,243.6 525.0,244.4 519.5,245.0 515.6,245.2 511.4,245.4 508.2,245.3 503.9,245.1 500.4,244.9 495.5,244.5 495.5,244.9 500.4,246.1 505.6,247.1 514.0,248.3 521.1,249.4 530.9,250.8 540.2,252.2 554.1,254.1 565.1,255.4 579.1,256.8 590.1,257.7 604.0,258.9 615.0,259.6 628.9,260.3 639.9,260.8 653.8,261.1 664.8,261.5 678.7,262.1 689.7,262.5 703.7,262.9 714.7,263.3 728.6,263.6 742.0,264.0 762.1,264.6 775.5,265.0 789.4,265.6 800.4,266.0 814.3,266.6 825.3,267.1 839.3,267.8 850.3,268.5 864.2,269.4 873.0,270.0 881.4,270.6 888.0,270.8 896.3,270.6 904.0,270.3 915.1,269.6 925.0,269.0 939.0,268.4 950.0,267.9 963.9,267.5 974.9,267.0 988.8,266.4 999.8,265.7 1013.7,264.7 1024.7,263.9 1038.7,262.7 1049.7,261.9 1063.6,261.0 1077.0,260.0 1097.1,258.4 1110.5,256.8 1124.5,254.1 1135.5,252.0 1149.4,249.2 1160.4,247.0 1174.3,244.2 1185.3,241.8 1199.2,238.7 1210.2,236.2 1224.1,233.2 1235.1,230.6 1249.1,227.1 1260.1,224.6 1274.0,221.8 1283.3,219.6 1293.2,216.8 1295.8,214.4 1292.6,211.3 1290.4,207.1 1288.0,199.9 1287.3,195.3 1287.9,191.2 1289.0,187.9 1291.2,183.7 1293.4,180.9 1296.8,177.8 1299.6,175.1 1303.0,171.1 1307.2,167.7 1314.2,162.8 1319.6,158.7 1326.6,153.1 1332.0,148.7 1339.0,143.1 1344.5,139.0 1351.5,134.1 1357.0,130.8 1364.0,127.4 1369.5,125.6 1376.5,124.6 1381.9,124.5 1388.9,125.2 1394.3,126.4 1401.3,128.8 1406.0,130.4 1410.9,132.0 1414.5,132.1 1418.6,130.8 1422.2,130.1 1427.1,129.8 1429.8,131.1 1432.0,134.6 1433.1,139.6 1433.7,148.6 1433.9,155.5 1433.6,163.8 1434.2,168.4 1435.8,171.7 1438.1,172.3 1442.0,170.3 1445.0,169.6 1448.5,169.6 1450.2,167.9 1450.8,163.8 1451.6,160.5 1453.0,156.3 1454.7,153.6 1457.5,150.8 1460.2,149.1 1464.4,147.8 1468.0,147.1 1472.9,146.8 1476.5,146.5 1480.6,146.1 1483.7,146.5 1487.1,147.8 1490.2,148.5 1494.3,148.8 1497.4,148.4 1500.8,147.2 1503.6,145.2 1507.0,141.2 1509.5,138.6 1512.3,135.8 1514.2,133.9 1516.3,131.8 1518.5,130.4 1522.0,129.1 1524.8,128.9 1528.2,129.8 1530.7,131.5 1533.5,134.7 1535.0,137.9 1536.2,142.8 1536.7,146.9 1537.0,152.5 1537.4,156.9 1538.0,162.4 1538.3,167.9 1538.3,176.3 1538.0,181.8 1537.4,187.3 1537.1,192.8 1537.1,201.2 1536.8,206.2 1536.1,210.3 1535.2,214.7 1533.8,221.7 1532.8,227.2 1531.4,234.2 1530.6,240.2 1529.9,248.6 1529.5,255.2 1529.2,263.5 1528.9,270.1 1528.6,278.5 1528.1,285.1 1527.4,293.4 1526.8,298.6 1526.2,303.6 1524.2,306.6 1520.1,309.3 1517.6,311.8 1515.5,315.3 1514.3,318.9 1513.1,324.4 1512.3,328.8 1511.3,334.4 1510.5,338.8 1509.6,344.4 1508.8,348.2 1507.6,352.1 1506.1,355.7 1503.3,360.6 1501.1,364.0 1498.3,367.6 1495.5,371.4 1491.4,377.5 1488.1,382.4 1483.9,388.6 1480.6,392.8 1476.5,397.0 1472.0,400.5 1465.0,405.4 1459.6,408.9 1452.6,413.2 1447.7,414.8 1442.1,414.8 1437.5,415.5 1431.4,417.1 1426.3,418.8 1419.3,421.3 1413.8,423.5 1406.8,426.5 1398.6,429.3 1384.7,433.6 1373.7,436.7 1359.8,440.7 1348.8,443.4 1334.8,446.5 1323.8,449.0 1309.9,452.1 1298.9,454.5 1285.0,457.3 1274.0,459.2 1260.1,461.3 1249.1,462.7 1235.1,464.1 1224.1,465.3 1210.2,466.9 1199.2,468.2 1185.3,469.6 1174.3,470.5 1160.4,471.7 1149.4,472.5 1135.5,473.7 1124.5,474.4 1110.5,475.2 1097.1,475.7 1077.0,476.4 1063.6,476.8 1049.7,477.4 1042.1,477.8 1036.8,478.1 1033.8,477.3 1031.4,474.8 1028.0,473.8 1021.7,473.8 1008.2,474.0 980.4,474.4 960.6,474.7 938.3,475.0 927.9,475.4 923.6,476.3 920.4,477.8 916.2,480.9 912.4,483.7 906.8,487.9 902.4,490.9 896.8,494.4 893.0,496.2 888.8,497.4 883.3,498.0 873.5,498.6 864.2,499.0 850.3,499.3 839.3,499.7 825.3,500.1 814.3,500.4 800.4,500.7 789.4,500.8 775.5,500.6 762.1,500.3 742.0,499.6 728.6,498.9 714.7,497.7 703.7,496.8 689.7,495.4 678.7,494.1 664.8,492.3 656.6,491.2 649.6,490.2 645.5,489.2 642.0,487.9 639.2,486.2 635.8,483.4 633.0,480.9 629.6,477.5 626.8,474.5 623.3,470.2 620.8,467.9 618.1,466.1 615.4,465.2 611.1,464.6 604.0,464.0 590.1,462.8 579.1,462.0 565.1,460.8 558.2,460.7 554.8,461.6 552.0,462.9 548.6,465.6 544.5,466.2 537.5,465.3 529.2,464.3 515.3,462.9 504.3,461.7 490.4,460.1 479.4,458.4 465.4,455.9 454.4,453.6 440.5,450.5 431.5,448.6 422.5,447.2 414.6,445.7 403.5,443.2 393.6,441.1 379.7,438.3 368.7,436.0 354.8,432.9 343.8,430.4 329.8,427.3 318.8,424.7 304.9,421.6 296.6,419.5 289.6,417.6 284.2,415.9 277.2,413.7 271.8,411.5 264.8,408.1 259.3,405.3 252.3,401.3 246.8,397.9 239.8,393.0 234.9,389.7 229.3,386.3 225.4,383.9 221.2,381.4 218.5,379.2 215.8,376.1 213.6,373.2 210.8,369.0 208.6,365.5 205.8,360.6 203.9,356.8 201.8,351.9 200.2,348.4 198.0,344.1 196.4,344.1 194.3,348.4 192.1,350.8 188.6,352.9 186.4,352.1 184.3,347.8 183.2,344.4 182.6,339.7 181.9,334.6 180.7,326.3 179.9,321.3 178.9,317.1 177.7,315.2 175.6,314.9 173.4,316.0 169.9,319.1 167.8,323.4 166.0,331.0 164.6,335.9 163.0,340.9 162.0,344.9 161.4,350.4 160.4,355.2 158.5,362.2 156.9,368.8 154.5,378.5 152.8,384.9 150.7,391.1 148.8,396.5 146.0,403.9 143.2,409.9 139.1,417.9 136.0,424.3 132.6,432.7 129.5,438.6 125.3,445.1 122.0,449.2 117.9,453.2 114.5,456.6 110.4,461.5 108.5,463.6 107.8,464.3 107.6,464.5" fill="none" stroke="#fff" stroke-width="3.7" stroke-dasharray="3.5 4.35"/>
<polyline points="1544.6,204.5 1544.5,201.2 1544.2,192.8 1543.9,186.2 1543.5,177.9 1543.0,170.8 1542.4,161.0 1542.2,155.0 1542.5,149.4 1542.9,145.5 1543.8,141.3 1544.8,138.2 1546.4,134.2 1548.5,132.9 1551.9,133.3 1554.7,133.8 1558.1,134.4 1560.9,134.4 1564.3,133.8 1567.1,133.8 1570.6,134.4 1573.1,136.3 1575.9,140.5 1576.5,143.8 1575.0,148.0 1574.0,150.7 1572.5,153.2 1573.4,154.0 1576.8,153.6 1580.1,152.8 1585.0,151.5 1588.6,150.6 1592.8,150.0 1596.1,150.2 1600.2,151.6 1603.6,151.4 1607.8,149.2 1611.0,147.6 1615.2,145.5 1618.2,143.6 1621.7,140.8 1622.8,136.9 1622.1,129.9 1621.8,124.5 1621.8,117.5 1622.6,113.1 1624.8,109.0 1627.2,106.8 1631.4,105.3 1634.7,104.9 1638.8,105.2 1642.2,105.5 1646.3,105.9 1649.4,106.5 1652.8,107.4 1655.6,109.1 1659.1,112.2 1661.6,114.9 1664.4,118.4 1666.6,120.9 1669.3,123.6 1671.8,123.9 1675.3,121.8 1678.1,120.8 1681.5,120.5 1684.3,120.6 1688.0,121.5 1689.4,121.8" fill="none" stroke="#fff" stroke-width="3.7" stroke-dasharray="3.5 4.35"/>
<polyline points="1689.4,434.7 1688.5,436.1 1686.3,439.6 1684.3,442.6 1681.5,446.8 1679.0,450.3 1675.6,455.3 1672.8,458.6 1669.3,462.0 1666.3,464.5 1662.1,467.3 1658.6,469.1 1653.6,470.9 1649.5,471.6 1644.0,471.6 1639.6,470.9 1634.0,469.1 1629.9,467.0 1625.0,463.5 1621.4,460.5 1617.2,456.3 1614.2,452.5 1610.8,446.9 1608.3,442.8 1605.5,437.9 1603.6,434.1 1601.5,429.1 1599.9,424.5 1597.7,417.5 1595.8,412.1 1593.0,405.1 1591.1,399.6 1589.0,392.6 1587.7,387.1 1586.2,380.1 1585.3,374.6 1584.4,367.6 1583.3,362.0 1581.4,354.5 1580.3,349.4 1579.4,343.8 1578.6,338.9 1577.4,331.9 1576.5,330.2 1575.0,333.0 1573.4,335.5 1570.6,339.0 1568.4,337.4 1565.6,329.6 1564.2,325.0 1563.6,320.8 1562.8,317.0 1561.3,311.4 1560.1,305.9 1558.2,297.5 1557.1,291.5 1556.2,284.5 1555.2,278.8 1553.8,271.1 1552.9,265.1 1551.9,257.4 1551.1,251.1 1550.0,242.7 1549.3,236.1 1548.6,227.7 1548.0,221.4 1547.4,213.7 1546.5,209.3 1545.1,205.9 1544.6,204.5" fill="none" stroke="#fff" stroke-width="3.7" stroke-dasharray="3.5 4.35"/>
<polygon points="520.1,221.1 519.6,219.8 519.7,218.8 520.3,217.4 521.5,216.2 523.8,214.6 526.9,213.3 532.5,211.4 537.5,210.0 544.5,208.3 551.0,207.2 560.8,206.0 569.0,205.1 580.2,203.8 595.6,202.8 623.4,201.4 645.4,200.7 673.2,200.4 703.1,200.4 751.1,200.7 781.0,201.1 808.8,201.7 830.8,201.9 858.7,201.6 880.7,201.1 908.5,199.9 925.0,199.3 939.0,199.0 950.0,199.0 963.9,199.3 980.4,199.8 1008.2,200.5 1030.2,201.1 1058.1,201.7 1077.0,202.2 1097.1,202.8 1110.5,203.1 1124.5,203.2 1136.0,203.5 1151.3,203.8 1158.0,204.4 1159.8,205.6 1158.7,206.9 1154.2,209.1 1150.2,211.8 1144.6,216.4 1139.7,219.8 1132.7,224.0 1127.2,226.8 1120.2,229.6 1114.8,231.8 1107.8,234.6 1097.1,236.5 1077.0,238.6 1063.6,240.0 1049.7,241.3 1038.7,242.3 1024.7,243.5 1013.7,244.2 999.8,244.8 988.8,245.4 974.9,246.1 963.9,246.5 950.0,246.8 934.6,247.2 909.5,247.8 893.0,248.5 876.3,249.5 864.2,250.3 850.3,251.5 840.9,251.9 831.1,251.9 820.2,251.6 802.0,250.9 789.4,250.6 775.5,250.6 762.1,250.2 742.0,249.3 728.6,248.6 714.7,247.9 703.7,247.3 689.7,246.7 678.7,246.0 664.8,244.8 653.8,243.7 639.9,242.1 628.9,240.7 615.0,238.9 604.0,237.4 590.1,235.2 579.1,233.6 565.1,231.5 554.1,229.8 540.2,227.3 532.5,225.9 526.9,224.5 523.7,223.5 521.3,222.1" fill="none" stroke="#fff" stroke-width="3.7" stroke-dasharray="3.5 4.35"/>
<polygon points="1389.1,192.5 1397.9,189.5 1404.1,179.6 1411.1,169.6 1416.6,174.6 1420.3,181.6 1412.8,185.8 1405.3,188.3" fill="none" stroke="#fff" stroke-width="3.7" stroke-dasharray="3.5 4.35"/>
<polygon points="177.8,288.0 176.0,291.7 178.5,296.2 179.5,292.0" fill="none" stroke="#fff" stroke-width="3.7" stroke-dasharray="3.5 4.35"/>
<rect x="167.1" y="241.2" width="2.8" height="2.8" fill="#fff"/>
<rect x="1320.5" y="217.6" width="2.8" height="2.8" fill="#fff"/>
<g clip-path="url(#cw)"><line x1="164.09" y1="46.2" x2="164.09" y2="589.1" stroke="#b0b0b0" stroke-opacity="0.072" stroke-width="2"/>
<line x1="220.59" y1="46.2" x2="220.59" y2="589.1" stroke="#b0b0b0" stroke-opacity="0.072" stroke-width="2"/>
<line x1="277.08" y1="46.2" x2="277.08" y2="589.1" stroke="#b0b0b0" stroke-opacity="0.072" stroke-width="2"/>
<line x1="333.57" y1="46.2" x2="333.57" y2="589.1" stroke="#b0b0b0" stroke-opacity="0.185" stroke-width="2"/>
<line x1="390.06" y1="46.2" x2="390.06" y2="589.1" stroke="#b0b0b0" stroke-opacity="0.072" stroke-width="2"/>
<line x1="446.56" y1="46.2" x2="446.56" y2="589.1" stroke="#b0b0b0" stroke-opacity="0.072" stroke-width="2"/>
<line x1="503.05" y1="46.2" x2="503.05" y2="589.1" stroke="#b0b0b0" stroke-opacity="0.072" stroke-width="2"/>
<line x1="559.54" y1="46.2" x2="559.54" y2="589.1" stroke="#b0b0b0" stroke-opacity="0.185" stroke-width="2"/>
<line x1="616.04" y1="46.2" x2="616.04" y2="589.1" stroke="#b0b0b0" stroke-opacity="0.072" stroke-width="2"/>
<line x1="672.53" y1="46.2" x2="672.53" y2="589.1" stroke="#b0b0b0" stroke-opacity="0.072" stroke-width="2"/>
<line x1="729.02" y1="46.2" x2="729.02" y2="589.1" stroke="#b0b0b0" stroke-opacity="0.072" stroke-width="2"/>
<line x1="785.51" y1="46.2" x2="785.51" y2="589.1" stroke="#b0b0b0" stroke-opacity="0.185" stroke-width="2"/>
<line x1="842.01" y1="46.2" x2="842.01" y2="589.1" stroke="#b0b0b0" stroke-opacity="0.072" stroke-width="2"/>
<line x1="898.50" y1="46.2" x2="898.50" y2="589.1" stroke="#b0b0b0" stroke-opacity="0.072" stroke-width="2"/>
<line x1="954.99" y1="46.2" x2="954.99" y2="589.1" stroke="#b0b0b0" stroke-opacity="0.072" stroke-width="2"/>
<line x1="1011.49" y1="46.2" x2="1011.49" y2="589.1" stroke="#b0b0b0" stroke-opacity="0.185" stroke-width="2"/>
<line x1="1067.98" y1="46.2" x2="1067.98" y2="589.1" stroke="#b0b0b0" stroke-opacity="0.072" stroke-width="2"/>
<line x1="1124.47" y1="46.2" x2="1124.47" y2="589.1" stroke="#b0b0b0" stroke-opacity="0.072" stroke-width="2"/>
<line x1="1180.96" y1="46.2" x2="1180.96" y2="589.1" stroke="#b0b0b0" stroke-opacity="0.072" stroke-width="2"/>
<line x1="1237.46" y1="46.2" x2="1237.46" y2="589.1" stroke="#b0b0b0" stroke-opacity="0.185" stroke-width="2"/>
<line x1="1293.95" y1="46.2" x2="1293.95" y2="589.1" stroke="#b0b0b0" stroke-opacity="0.072" stroke-width="2"/>
<line x1="1350.44" y1="46.2" x2="1350.44" y2="589.1" stroke="#b0b0b0" stroke-opacity="0.072" stroke-width="2"/>
<line x1="1406.94" y1="46.2" x2="1406.94" y2="589.1" stroke="#b0b0b0" stroke-opacity="0.072" stroke-width="2"/>
<line x1="1463.43" y1="46.2" x2="1463.43" y2="589.1" stroke="#b0b0b0" stroke-opacity="0.185" stroke-width="2"/>
<line x1="1519.92" y1="46.2" x2="1519.92" y2="589.1" stroke="#b0b0b0" stroke-opacity="0.072" stroke-width="2"/>
<line x1="1576.41" y1="46.2" x2="1576.41" y2="589.1" stroke="#b0b0b0" stroke-opacity="0.072" stroke-width="2"/>
<line x1="1632.91" y1="46.2" x2="1632.91" y2="589.1" stroke="#b0b0b0" stroke-opacity="0.072" stroke-width="2"/>
<line x1="107.6" y1="227.17" x2="1689.4" y2="227.17" stroke="#b0b0b0" stroke-opacity="0.185" stroke-width="2"/>
<line x1="107.6" y1="172.69" x2="1689.4" y2="172.69" stroke="#b0b0b0" stroke-opacity="0.072" stroke-width="2"/>
<line x1="107.6" y1="140.82" x2="1689.4" y2="140.82" stroke="#b0b0b0" stroke-opacity="0.072" stroke-width="2"/>
<line x1="107.6" y1="118.21" x2="1689.4" y2="118.21" stroke="#b0b0b0" stroke-opacity="0.072" stroke-width="2"/>
<line x1="107.6" y1="100.68" x2="1689.4" y2="100.68" stroke="#b0b0b0" stroke-opacity="0.072" stroke-width="2"/>
<line x1="107.6" y1="86.35" x2="1689.4" y2="86.35" stroke="#b0b0b0" stroke-opacity="0.072" stroke-width="2"/>
<line x1="107.6" y1="74.23" x2="1689.4" y2="74.23" stroke="#b0b0b0" stroke-opacity="0.072" stroke-width="2"/>
<line x1="107.6" y1="63.74" x2="1689.4" y2="63.74" stroke="#b0b0b0" stroke-opacity="0.072" stroke-width="2"/>
<line x1="107.6" y1="54.48" x2="1689.4" y2="54.48" stroke="#b0b0b0" stroke-opacity="0.072" stroke-width="2"/>
<line x1="107.6" y1="408.13" x2="1689.4" y2="408.13" stroke="#b0b0b0" stroke-opacity="0.185" stroke-width="2"/>
<line x1="107.6" y1="353.66" x2="1689.4" y2="353.66" stroke="#b0b0b0" stroke-opacity="0.072" stroke-width="2"/>
<line x1="107.6" y1="321.79" x2="1689.4" y2="321.79" stroke="#b0b0b0" stroke-opacity="0.072" stroke-width="2"/>
<line x1="107.6" y1="299.18" x2="1689.4" y2="299.18" stroke="#b0b0b0" stroke-opacity="0.072" stroke-width="2"/>
<line x1="107.6" y1="281.64" x2="1689.4" y2="281.64" stroke="#b0b0b0" stroke-opacity="0.072" stroke-width="2"/>
<line x1="107.6" y1="267.31" x2="1689.4" y2="267.31" stroke="#b0b0b0" stroke-opacity="0.072" stroke-width="2"/>
<line x1="107.6" y1="255.20" x2="1689.4" y2="255.20" stroke="#b0b0b0" stroke-opacity="0.072" stroke-width="2"/>
<line x1="107.6" y1="244.70" x2="1689.4" y2="244.70" stroke="#b0b0b0" stroke-opacity="0.072" stroke-width="2"/>
<line x1="107.6" y1="235.45" x2="1689.4" y2="235.45" stroke="#b0b0b0" stroke-opacity="0.072" stroke-width="2"/>
<line x1="107.6" y1="534.62" x2="1689.4" y2="534.62" stroke="#b0b0b0" stroke-opacity="0.072" stroke-width="2"/>
<line x1="107.6" y1="502.76" x2="1689.4" y2="502.76" stroke="#b0b0b0" stroke-opacity="0.072" stroke-width="2"/>
<line x1="107.6" y1="480.15" x2="1689.4" y2="480.15" stroke="#b0b0b0" stroke-opacity="0.072" stroke-width="2"/>
<line x1="107.6" y1="462.61" x2="1689.4" y2="462.61" stroke="#b0b0b0" stroke-opacity="0.072" stroke-width="2"/>
<line x1="107.6" y1="448.28" x2="1689.4" y2="448.28" stroke="#b0b0b0" stroke-opacity="0.072" stroke-width="2"/>
<line x1="107.6" y1="436.17" x2="1689.4" y2="436.17" stroke="#b0b0b0" stroke-opacity="0.072" stroke-width="2"/>
<line x1="107.6" y1="425.67" x2="1689.4" y2="425.67" stroke="#b0b0b0" stroke-opacity="0.072" stroke-width="2"/>
<line x1="107.6" y1="416.41" x2="1689.4" y2="416.41" stroke="#b0b0b0" stroke-opacity="0.072" stroke-width="2"/></g>
<line x1="164.09" y1="46.2" x2="164.09" y2="589.1" stroke="#b0b0b0" stroke-opacity="0.03" stroke-width="2"/>
<line x1="220.59" y1="46.2" x2="220.59" y2="589.1" stroke="#b0b0b0" stroke-opacity="0.03" stroke-width="2"/>
<line x1="277.08" y1="46.2" x2="277.08" y2="589.1" stroke="#b0b0b0" stroke-opacity="0.03" stroke-width="2"/>
<line x1="333.57" y1="46.2" x2="333.57" y2="589.1" stroke="#b0b0b0" stroke-opacity="0.08" stroke-width="2"/>
<line x1="390.06" y1="46.2" x2="390.06" y2="589.1" stroke="#b0b0b0" stroke-opacity="0.03" stroke-width="2"/>
<line x1="446.56" y1="46.2" x2="446.56" y2="589.1" stroke="#b0b0b0" stroke-opacity="0.03" stroke-width="2"/>
<line x1="503.05" y1="46.2" x2="503.05" y2="589.1" stroke="#b0b0b0" stroke-opacity="0.03" stroke-width="2"/>
<line x1="559.54" y1="46.2" x2="559.54" y2="589.1" stroke="#b0b0b0" stroke-opacity="0.08" stroke-width="2"/>
<line x1="616.04" y1="46.2" x2="616.04" y2="589.1" stroke="#b0b0b0" stroke-opacity="0.03" stroke-width="2"/>
<line x1="672.53" y1="46.2" x2="672.53" y2="589.1" stroke="#b0b0b0" stroke-opacity="0.03" stroke-width="2"/>
<line x1="729.02" y1="46.2" x2="729.02" y2="589.1" stroke="#b0b0b0" stroke-opacity="0.03" stroke-width="2"/>
<line x1="785.51" y1="46.2" x2="785.51" y2="589.1" stroke="#b0b0b0" stroke-opacity="0.08" stroke-width="2"/>
<line x1="842.01" y1="46.2" x2="842.01" y2="589.1" stroke="#b0b0b0" stroke-opacity="0.03" stroke-width="2"/>
<line x1="898.50" y1="46.2" x2="898.50" y2="589.1" stroke="#b0b0b0" stroke-opacity="0.03" stroke-width="2"/>
<line x1="954.99" y1="46.2" x2="954.99" y2="589.1" stroke="#b0b0b0" stroke-opacity="0.03" stroke-width="2"/>
<line x1="1011.49" y1="46.2" x2="1011.49" y2="589.1" stroke="#b0b0b0" stroke-opacity="0.08" stroke-width="2"/>
<line x1="1067.98" y1="46.2" x2="1067.98" y2="589.1" stroke="#b0b0b0" stroke-opacity="0.03" stroke-width="2"/>
<line x1="1124.47" y1="46.2" x2="1124.47" y2="589.1" stroke="#b0b0b0" stroke-opacity="0.03" stroke-width="2"/>
<line x1="1180.96" y1="46.2" x2="1180.96" y2="589.1" stroke="#b0b0b0" stroke-opacity="0.03" stroke-width="2"/>
<line x1="1237.46" y1="46.2" x2="1237.46" y2="589.1" stroke="#b0b0b0" stroke-opacity="0.08" stroke-width="2"/>
<line x1="1293.95" y1="46.2" x2="1293.95" y2="589.1" stroke="#b0b0b0" stroke-opacity="0.03" stroke-width="2"/>
<line x1="1350.44" y1="46.2" x2="1350.44" y2="589.1" stroke="#b0b0b0" stroke-opacity="0.03" stroke-width="2"/>
<line x1="1406.94" y1="46.2" x2="1406.94" y2="589.1" stroke="#b0b0b0" stroke-opacity="0.03" stroke-width="2"/>
<line x1="1463.43" y1="46.2" x2="1463.43" y2="589.1" stroke="#b0b0b0" stroke-opacity="0.08" stroke-width="2"/>
<line x1="1519.92" y1="46.2" x2="1519.92" y2="589.1" stroke="#b0b0b0" stroke-opacity="0.03" stroke-width="2"/>
<line x1="1576.41" y1="46.2" x2="1576.41" y2="589.1" stroke="#b0b0b0" stroke-opacity="0.03" stroke-width="2"/>
<line x1="1632.91" y1="46.2" x2="1632.91" y2="589.1" stroke="#b0b0b0" stroke-opacity="0.03" stroke-width="2"/>
<line x1="107.6" y1="227.17" x2="1689.4" y2="227.17" stroke="#b0b0b0" stroke-opacity="0.08" stroke-width="2"/>
<line x1="107.6" y1="172.69" x2="1689.4" y2="172.69" stroke="#b0b0b0" stroke-opacity="0.03" stroke-width="2"/>
<line x1="107.6" y1="140.82" x2="1689.4" y2="140.82" stroke="#b0b0b0" stroke-opacity="0.03" stroke-width="2"/>
<line x1="107.6" y1="118.21" x2="1689.4" y2="118.21" stroke="#b0b0b0" stroke-opacity="0.03" stroke-width="2"/>
<line x1="107.6" y1="100.68" x2="1689.4" y2="100.68" stroke="#b0b0b0" stroke-opacity="0.03" stroke-width="2"/>
<line x1="107.6" y1="86.35" x2="1689.4" y2="86.35" stroke="#b0b0b0" stroke-opacity="0.03" stroke-width="2"/>
<line x1="107.6" y1="74.23" x2="1689.4" y2="74.23" stroke="#b0b0b0" stroke-opacity="0.03" stroke-width="2"/>
<line x1="107.6" y1="63.74" x2="1689.4" y2="63.74" stroke="#b0b0b0" stroke-opacity="0.03" stroke-width="2"/>
<line x1="107.6" y1="54.48" x2="1689.4" y2="54.48" stroke="#b0b0b0" stroke-opacity="0.03" stroke-width="2"/>
<line x1="107.6" y1="408.13" x2="1689.4" y2="408.13" stroke="#b0b0b0" stroke-opacity="0.08" stroke-width="2"/>
<line x1="107.6" y1="353.66" x2="1689.4" y2="353.66" stroke="#b0b0b0" stroke-opacity="0.03" stroke-width="2"/>
<line x1="107.6" y1="321.79" x2="1689.4" y2="321.79" stroke="#b0b0b0" stroke-opacity="0.03" stroke-width="2"/>
<line x1="107.6" y1="299.18" x2="1689.4" y2="299.18" stroke="#b0b0b0" stroke-opacity="0.03" stroke-width="2"/>
<line x1="107.6" y1="281.64" x2="1689.4" y2="281.64" stroke="#b0b0b0" stroke-opacity="0.03" stroke-width="2"/>
<line x1="107.6" y1="267.31" x2="1689.4" y2="267.31" stroke="#b0b0b0" stroke-opacity="0.03" stroke-width="2"/>
<line x1="107.6" y1="255.20" x2="1689.4" y2="255.20" stroke="#b0b0b0" stroke-opacity="0.03" stroke-width="2"/>
<line x1="107.6" y1="244.70" x2="1689.4" y2="244.70" stroke="#b0b0b0" stroke-opacity="0.03" stroke-width="2"/>
<line x1="107.6" y1="235.45" x2="1689.4" y2="235.45" stroke="#b0b0b0" stroke-opacity="0.03" stroke-width="2"/>
<line x1="107.6" y1="534.62" x2="1689.4" y2="534.62" stroke="#b0b0b0" stroke-opacity="0.03" stroke-width="2"/>
<line x1="107.6" y1="502.76" x2="1689.4" y2="502.76" stroke="#b0b0b0" stroke-opacity="0.03" stroke-width="2"/>
<line x1="107.6" y1="480.15" x2="1689.4" y2="480.15" stroke="#b0b0b0" stroke-opacity="0.03" stroke-width="2"/>
<line x1="107.6" y1="462.61" x2="1689.4" y2="462.61" stroke="#b0b0b0" stroke-opacity="0.03" stroke-width="2"/>
<line x1="107.6" y1="448.28" x2="1689.4" y2="448.28" stroke="#b0b0b0" stroke-opacity="0.03" stroke-width="2"/>
<line x1="107.6" y1="436.17" x2="1689.4" y2="436.17" stroke="#b0b0b0" stroke-opacity="0.03" stroke-width="2"/>
<line x1="107.6" y1="425.67" x2="1689.4" y2="425.67" stroke="#b0b0b0" stroke-opacity="0.03" stroke-width="2"/>
<line x1="107.6" y1="416.41" x2="1689.4" y2="416.41" stroke="#b0b0b0" stroke-opacity="0.03" stroke-width="2"/>
</g>
<line x1="1072.3" y1="46.2" x2="1072.3" y2="589.1" stroke="#ff0000" stroke-width="2.1" stroke-dasharray="7.7 3.33"/>
<rect x="107.6" y="46.2" width="1581.8000000000002" height="542.9" fill="none" stroke="#1c1c1c" stroke-width="1.1"/>
<line x1="107.60" y1="589.1" x2="107.60" y2="596.3000000000001" stroke="#000" stroke-width="1.1"/>
<text x="102.85" y="616.9" font-size="20.8" textLength="9.5" lengthAdjust="spacingAndGlyphs" stroke="#fff" stroke-width="0.15">0</text>
<line x1="164.09" y1="589.1" x2="164.09" y2="593.3000000000001" stroke="#000" stroke-width="0.9"/>
<line x1="220.59" y1="589.1" x2="220.59" y2="593.3000000000001" stroke="#000" stroke-width="0.9"/>
<line x1="277.08" y1="589.1" x2="277.08" y2="593.3000000000001" stroke="#000" stroke-width="0.9"/>
<line x1="333.57" y1="589.1" x2="333.57" y2="596.3000000000001" stroke="#000" stroke-width="1.1"/>
<text x="328.82" y="616.9" font-size="20.8" textLength="9.5" lengthAdjust="spacingAndGlyphs" stroke="#fff" stroke-width="0.15">2</text>
<line x1="390.06" y1="589.1" x2="390.06" y2="593.3000000000001" stroke="#000" stroke-width="0.9"/>
<line x1="446.56" y1="589.1" x2="446.56" y2="593.3000000000001" stroke="#000" stroke-width="0.9"/>
<line x1="503.05" y1="589.1" x2="503.05" y2="593.3000000000001" stroke="#000" stroke-width="0.9"/>
<line x1="559.54" y1="589.1" x2="559.54" y2="596.3000000000001" stroke="#000" stroke-width="1.1"/>
<text x="554.79" y="616.9" font-size="20.8" textLength="9.5" lengthAdjust="spacingAndGlyphs" stroke="#fff" stroke-width="0.15">4</text>
<line x1="616.04" y1="589.1" x2="616.04" y2="593.3000000000001" stroke="#000" stroke-width="0.9"/>
<line x1="672.53" y1="589.1" x2="672.53" y2="593.3000000000001" stroke="#000" stroke-width="0.9"/>
<line x1="729.02" y1="589.1" x2="729.02" y2="593.3000000000001" stroke="#000" stroke-width="0.9"/>
<line x1="785.51" y1="589.1" x2="785.51" y2="596.3000000000001" stroke="#000" stroke-width="1.1"/>
<text x="780.76" y="616.9" font-size="20.8" textLength="9.5" lengthAdjust="spacingAndGlyphs" stroke="#fff" stroke-width="0.15">6</text>
<line x1="842.01" y1="589.1" x2="842.01" y2="593.3000000000001" stroke="#000" stroke-width="0.9"/>
<line x1="898.50" y1="589.1" x2="898.50" y2="593.3000000000001" stroke="#000" stroke-width="0.9"/>
<line x1="954.99" y1="589.1" x2="954.99" y2="593.3000000000001" stroke="#000" stroke-width="0.9"/>
<line x1="1011.49" y1="589.1" x2="1011.49" y2="596.3000000000001" stroke="#000" stroke-width="1.1"/>
<text x="1006.74" y="616.9" font-size="20.8" textLength="9.5" lengthAdjust="spacingAndGlyphs" stroke="#fff" stroke-width="0.15">8</text>
<line x1="1067.98" y1="589.1" x2="1067.98" y2="593.3000000000001" stroke="#000" stroke-width="0.9"/>
<line x1="1124.47" y1="589.1" x2="1124.47" y2="593.3000000000001" stroke="#000" stroke-width="0.9"/>
<line x1="1180.96" y1="589.1" x2="1180.96" y2="593.3000000000001" stroke="#000" stroke-width="0.9"/>
<line x1="1237.46" y1="589.1" x2="1237.46" y2="596.3000000000001" stroke="#000" stroke-width="1.1"/>
<text x="1227.96" y="616.9" font-size="20.8" textLength="19.0" lengthAdjust="spacingAndGlyphs" stroke="#fff" stroke-width="0.15">10</text>
<line x1="1293.95" y1="589.1" x2="1293.95" y2="593.3000000000001" stroke="#000" stroke-width="0.9"/>
<line x1="1350.44" y1="589.1" x2="1350.44" y2="593.3000000000001" stroke="#000" stroke-width="0.9"/>
<line x1="1406.94" y1="589.1" x2="1406.94" y2="593.3000000000001" stroke="#000" stroke-width="0.9"/>
<line x1="1463.43" y1="589.1" x2="1463.43" y2="596.3000000000001" stroke="#000" stroke-width="1.1"/>
<text x="1453.93" y="616.9" font-size="20.8" textLength="19.0" lengthAdjust="spacingAndGlyphs" stroke="#fff" stroke-width="0.15">12</text>
<line x1="1519.92" y1="589.1" x2="1519.92" y2="593.3000000000001" stroke="#000" stroke-width="0.9"/>
<line x1="1576.41" y1="589.1" x2="1576.41" y2="593.3000000000001" stroke="#000" stroke-width="0.9"/>
<line x1="1632.91" y1="589.1" x2="1632.91" y2="593.3000000000001" stroke="#000" stroke-width="0.9"/>
<line x1="1689.40" y1="589.1" x2="1689.40" y2="596.3000000000001" stroke="#000" stroke-width="1.1"/>
<text x="1679.90" y="616.9" font-size="20.8" textLength="19.0" lengthAdjust="spacingAndGlyphs" stroke="#fff" stroke-width="0.15">14</text>
<line x1="100.39999999999999" y1="46.20" x2="107.6" y2="46.20" stroke="#000" stroke-width="1.1"/>
<text font-size="20.8" stroke="#fff" stroke-width="0.15"><tspan x="54.2" y="52.70" textLength="19.1" lengthAdjust="spacingAndGlyphs">10</tspan><tspan x="75.0" y="46.80" font-size="14.6" textLength="9.6" lengthAdjust="spacingAndGlyphs" stroke="none">−</tspan><tspan x="86.4" y="45.80" font-size="14.2" textLength="6.8" lengthAdjust="spacingAndGlyphs" stroke="none">1</tspan></text>
<line x1="100.39999999999999" y1="227.17" x2="107.6" y2="227.17" stroke="#000" stroke-width="1.1"/>
<text font-size="20.8" stroke="#fff" stroke-width="0.15"><tspan x="54.2" y="233.67" textLength="19.1" lengthAdjust="spacingAndGlyphs">10</tspan><tspan x="75.0" y="227.77" font-size="14.6" textLength="9.6" lengthAdjust="spacingAndGlyphs" stroke="none">−</tspan><tspan x="86.4" y="226.77" font-size="14.2" textLength="6.8" lengthAdjust="spacingAndGlyphs" stroke="none">2</tspan></text>
<line x1="103.39999999999999" y1="172.69" x2="107.6" y2="172.69" stroke="#000" stroke-width="0.9"/>
<line x1="103.39999999999999" y1="140.82" x2="107.6" y2="140.82" stroke="#000" stroke-width="0.9"/>
<line x1="103.39999999999999" y1="118.21" x2="107.6" y2="118.21" stroke="#000" stroke-width="0.9"/>
<line x1="103.39999999999999" y1="100.68" x2="107.6" y2="100.68" stroke="#000" stroke-width="0.9"/>
<line x1="103.39999999999999" y1="86.35" x2="107.6" y2="86.35" stroke="#000" stroke-width="0.9"/>
<line x1="103.39999999999999" y1="74.23" x2="107.6" y2="74.23" stroke="#000" stroke-width="0.9"/>
<line x1="103.39999999999999" y1="63.74" x2="107.6" y2="63.74" stroke="#000" stroke-width="0.9"/>
<line x1="103.39999999999999" y1="54.48" x2="107.6" y2="54.48" stroke="#000" stroke-width="0.9"/>
<line x1="100.39999999999999" y1="408.13" x2="107.6" y2="408.13" stroke="#000" stroke-width="1.1"/>
<text font-size="20.8" stroke="#fff" stroke-width="0.15"><tspan x="54.2" y="414.63" textLength="19.1" lengthAdjust="spacingAndGlyphs">10</tspan><tspan x="75.0" y="408.73" font-size="14.6" textLength="9.6" lengthAdjust="spacingAndGlyphs" stroke="none">−</tspan><tspan x="86.4" y="407.73" font-size="14.2" textLength="6.8" lengthAdjust="spacingAndGlyphs" stroke="none">3</tspan></text>
<line x1="103.39999999999999" y1="353.66" x2="107.6" y2="353.66" stroke="#000" stroke-width="0.9"/>
<line x1="103.39999999999999" y1="321.79" x2="107.6" y2="321.79" stroke="#000" stroke-width="0.9"/>
<line x1="103.39999999999999" y1="299.18" x2="107.6" y2="299.18" stroke="#000" stroke-width="0.9"/>
<line x1="103.39999999999999" y1="281.64" x2="107.6" y2="281.64" stroke="#000" stroke-width="0.9"/>
<line x1="103.39999999999999" y1="267.31" x2="107.6" y2="267.31" stroke="#000" stroke-width="0.9"/>
<line x1="103.39999999999999" y1="255.20" x2="107.6" y2="255.20" stroke="#000" stroke-width="0.9"/>
<line x1="103.39999999999999" y1="244.70" x2="107.6" y2="244.70" stroke="#000" stroke-width="0.9"/>
<line x1="103.39999999999999" y1="235.45" x2="107.6" y2="235.45" stroke="#000" stroke-width="0.9"/>
<line x1="100.39999999999999" y1="589.10" x2="107.6" y2="589.10" stroke="#000" stroke-width="1.1"/>
<text font-size="20.8" stroke="#fff" stroke-width="0.15"><tspan x="54.2" y="595.60" textLength="19.1" lengthAdjust="spacingAndGlyphs">10</tspan><tspan x="75.0" y="589.70" font-size="14.6" textLength="9.6" lengthAdjust="spacingAndGlyphs" stroke="none">−</tspan><tspan x="86.4" y="588.70" font-size="14.2" textLength="6.8" lengthAdjust="spacingAndGlyphs" stroke="none">4</tspan></text>
<line x1="103.39999999999999" y1="534.62" x2="107.6" y2="534.62" stroke="#000" stroke-width="0.9"/>
<line x1="103.39999999999999" y1="502.76" x2="107.6" y2="502.76" stroke="#000" stroke-width="0.9"/>
<line x1="103.39999999999999" y1="480.15" x2="107.6" y2="480.15" stroke="#000" stroke-width="0.9"/>
<line x1="103.39999999999999" y1="462.61" x2="107.6" y2="462.61" stroke="#000" stroke-width="0.9"/>
<line x1="103.39999999999999" y1="448.28" x2="107.6" y2="448.28" stroke="#000" stroke-width="0.9"/>
<line x1="103.39999999999999" y1="436.17" x2="107.6" y2="436.17" stroke="#000" stroke-width="0.9"/>
<line x1="103.39999999999999" y1="425.67" x2="107.6" y2="425.67" stroke="#000" stroke-width="0.9"/>
<line x1="103.39999999999999" y1="416.41" x2="107.6" y2="416.41" stroke="#000" stroke-width="0.9"/>
<text y="34.2" font-size="47.5" stroke="#fff" stroke-width="0.52"><tspan x="551.4" textLength="291.7" lengthAdjust="spacingAndGlyphs">Wave-Telescope</tspan> <tspan x="862.0" textLength="92.0" lengthAdjust="spacingAndGlyphs">Error</tspan> <tspan x="973.9" textLength="36.0" lengthAdjust="spacingAndGlyphs">of</tspan> <tspan x="1024.1" textLength="220.7" lengthAdjust="spacingAndGlyphs">HelioSwarm</tspan></text>
<text y="656" font-size="36.5" stroke="#fff" stroke-width="0.4"><tspan x="734.2" textLength="58.8" lengthAdjust="spacingAndGlyphs">Day</tspan> <tspan x="810.2" y="657.9" font-size="42.5" textLength="11" lengthAdjust="spacingAndGlyphs">(</tspan><tspan x="823.3" y="656" textLength="90" lengthAdjust="spacingAndGlyphs">Phase</tspan> <tspan x="927.5" textLength="21.8" lengthAdjust="spacingAndGlyphs">B</tspan> <tspan x="964.4" textLength="81.5" lengthAdjust="spacingAndGlyphs">DRM</tspan><tspan x="1050.2" y="657.9" font-size="42.5" textLength="11" lengthAdjust="spacingAndGlyphs">)</tspan></text>
<g transform="translate(35,0) rotate(-90)"><text font-size="36.5" stroke="#fff" stroke-width="0.4"><tspan x="-391.8" y="0" font-size="38.5" font-style="italic" textLength="22.3" lengthAdjust="spacingAndGlyphs">k</tspan> <tspan x="-354.2" y="0" font-size="43" textLength="12.6" lengthAdjust="spacingAndGlyphs">(</tspan><tspan x="-337.8" y="0" font-size="38.5" font-style="italic" textLength="50.5" lengthAdjust="spacingAndGlyphs">km</tspan><tspan x="-285" y="-12.5" font-size="25.5" textLength="25.4" lengthAdjust="spacingAndGlyphs">−1</tspan><tspan x="-256" y="0" font-size="43" textLength="12.6" lengthAdjust="spacingAndGlyphs">)</tspan></text></g>
<rect x="1788.6" y="534.81" width="26.70" height="54.59" fill="#471365"/>
<rect x="1788.6" y="480.52" width="26.70" height="54.59" fill="#463480"/>
<rect x="1788.6" y="426.23" width="26.70" height="54.59" fill="#3b528b"/>
<rect x="1788.6" y="371.94" width="26.70" height="54.59" fill="#2f6c8e"/>
<rect x="1788.6" y="317.65" width="26.70" height="54.59" fill="#25848e"/>
<rect x="1788.6" y="263.36" width="26.70" height="54.59" fill="#1e9c89"/>
<rect x="1788.6" y="209.07" width="26.70" height="54.59" fill="#2fb47c"/>
<rect x="1788.6" y="154.78" width="26.70" height="54.59" fill="#5ec962"/>
<rect x="1788.6" y="100.49" width="26.70" height="54.59" fill="#9bd93c"/>
<rect x="1788.6" y="46.20" width="26.70" height="54.59" fill="#dfe318"/>
<rect x="1788.6" y="46.2" width="26.70" height="542.9" fill="none" stroke="#000" stroke-width="1.1"/>
<line x1="1815.3" y1="589.10" x2="1822.5" y2="589.10" stroke="#000" stroke-width="1.1"/>
<text x="1829.2" y="595.30" font-size="20.8" textLength="9.4" lengthAdjust="spacingAndGlyphs" stroke="#fff" stroke-width="0.15">0</text>
<line x1="1815.3" y1="480.52" x2="1822.5" y2="480.52" stroke="#000" stroke-width="1.1"/>
<text x="1829.2" y="486.72" font-size="20.8" textLength="18.8" lengthAdjust="spacingAndGlyphs" stroke="#fff" stroke-width="0.15">20</text>
<line x1="1815.3" y1="371.94" x2="1822.5" y2="371.94" stroke="#000" stroke-width="1.1"/>
<text x="1829.2" y="378.14" font-size="20.8" textLength="18.8" lengthAdjust="spacingAndGlyphs" stroke="#fff" stroke-width="0.15">40</text>
<line x1="1815.3" y1="263.36" x2="1822.5" y2="263.36" stroke="#000" stroke-width="1.1"/>
<text x="1829.2" y="269.56" font-size="20.8" textLength="18.8" lengthAdjust="spacingAndGlyphs" stroke="#fff" stroke-width="0.15">60</text>
<line x1="1815.3" y1="154.78" x2="1822.5" y2="154.78" stroke="#000" stroke-width="1.1"/>
<text x="1829.2" y="160.98" font-size="20.8" textLength="18.8" lengthAdjust="spacingAndGlyphs" stroke="#fff" stroke-width="0.15">80</text>
<line x1="1815.3" y1="46.20" x2="1822.5" y2="46.20" stroke="#000" stroke-width="1.1"/>
<text x="1829.2" y="52.40" font-size="20.8" textLength="28.2" lengthAdjust="spacingAndGlyphs" stroke="#fff" stroke-width="0.15">100</text>
<g transform="translate(1890.4,0) rotate(-90)"><text font-size="33.5" stroke="#fff" stroke-width="0.37"><tspan x="-382" y="0" textLength="70.4" lengthAdjust="spacingAndGlyphs">Error</tspan> <tspan x="-296.3" y="1.2" font-size="38" textLength="43.3" lengthAdjust="spacingAndGlyphs">(%)</tspan></text></g>
</svg>
</body>
</html>
